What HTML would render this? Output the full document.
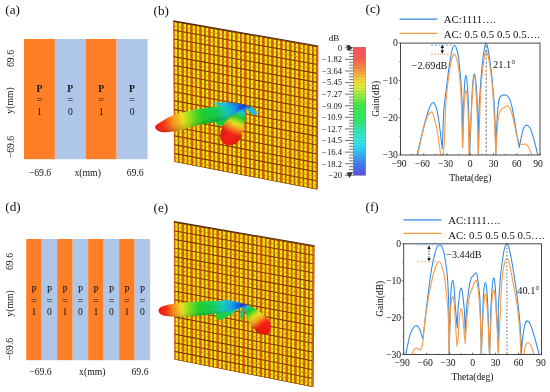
<!DOCTYPE html>
<html lang="en"><head><meta charset="utf-8"><title>Figure</title>
<style>html,body{margin:0;padding:0;background:#fff}svg{display:block}text{font-family:"Liberation Serif", "DejaVu Serif", serif;fill:#111}</style></head><body>
<svg width="550" height="392" viewBox="0 0 550 392">
<rect width="550" height="392" fill="#fff"/>
<defs>
<pattern id="cell" width="10" height="10" patternUnits="userSpaceOnUse"><rect width="10" height="10" fill="#cf6a1a"/><rect x="0" y="0" width="10" height="0.9" fill="#3a1c05"/><rect x="0" y="0" width="0.8" height="10" fill="#8a3f0c"/><rect x="2.0" y="1.6" width="2.3" height="3.3" fill="#f6f000"/><rect x="2.0" y="6.0" width="2.3" height="3.3" fill="#f6f000"/><rect x="6.2" y="1.6" width="2.3" height="3.3" fill="#f6f000"/><rect x="6.2" y="6.0" width="2.3" height="3.3" fill="#f6f000"/><rect x="4.7" y="4.9" width="1.2" height="1.2" fill="#9fb0a0"/></pattern>
</defs>
<rect x="24.00" y="39.00" width="30.93" height="120.20" fill="#ff7f27"/>
<rect x="54.88" y="39.00" width="30.93" height="120.20" fill="#aec7e8"/>
<rect x="85.75" y="39.00" width="30.93" height="120.20" fill="#ff7f27"/>
<rect x="116.62" y="39.00" width="30.93" height="120.20" fill="#aec7e8"/>
<text x="39.44" y="91.90" font-size="9.7" font-weight="bold" text-anchor="middle" fill="#3a2a20">P</text>
<text x="39.44" y="103.30" font-size="10.5" text-anchor="middle" fill="#8f8580">=</text>
<text x="39.44" y="114.80" font-size="9.7" text-anchor="middle" fill="#3a2a20">1</text>
<text x="70.31" y="91.90" font-size="9.7" font-weight="bold" text-anchor="middle" fill="#3a2a20">P</text>
<text x="70.31" y="103.30" font-size="10.5" text-anchor="middle" fill="#8f8580">=</text>
<text x="70.31" y="114.80" font-size="9.7" text-anchor="middle" fill="#3a2a20">0</text>
<text x="101.19" y="91.90" font-size="9.7" font-weight="bold" text-anchor="middle" fill="#3a2a20">P</text>
<text x="101.19" y="103.30" font-size="10.5" text-anchor="middle" fill="#8f8580">=</text>
<text x="101.19" y="114.80" font-size="9.7" text-anchor="middle" fill="#3a2a20">1</text>
<text x="132.06" y="91.90" font-size="9.7" font-weight="bold" text-anchor="middle" fill="#3a2a20">P</text>
<text x="132.06" y="103.30" font-size="10.5" text-anchor="middle" fill="#8f8580">=</text>
<text x="132.06" y="114.80" font-size="9.7" text-anchor="middle" fill="#3a2a20">0</text>
<text x="5.30" y="14.15" font-size="13.2" text-anchor="start">(a)</text>
<text transform="translate(14.20 58.50) rotate(-90)" font-size="9.7" text-anchor="middle">69.6</text>
<text transform="translate(13.40 100.50) rotate(-90)" font-size="9.7" text-anchor="middle">y(mm)</text>
<text transform="translate(13.60 147.00) rotate(-90)" font-size="9.7" text-anchor="middle">−69.6</text>
<text x="40.00" y="175.50" font-size="9.7" text-anchor="middle">−69.6</text>
<text x="87.70" y="175.50" font-size="9.7" text-anchor="middle">x(mm)</text>
<text x="135.20" y="175.50" font-size="9.7" text-anchor="middle">69.6</text>
<rect x="26.20" y="239.00" width="15.54" height="121.20" fill="#ff7f27"/>
<rect x="41.69" y="239.00" width="15.54" height="121.20" fill="#aec7e8"/>
<rect x="57.17" y="239.00" width="15.54" height="121.20" fill="#ff7f27"/>
<rect x="72.66" y="239.00" width="15.54" height="121.20" fill="#aec7e8"/>
<rect x="88.15" y="239.00" width="15.54" height="121.20" fill="#ff7f27"/>
<rect x="103.64" y="239.00" width="15.54" height="121.20" fill="#aec7e8"/>
<rect x="119.12" y="239.00" width="15.54" height="121.20" fill="#ff7f27"/>
<rect x="134.61" y="239.00" width="15.54" height="121.20" fill="#aec7e8"/>
<text x="33.94" y="292.50" font-size="9.7" font-weight="normal" text-anchor="middle" fill="#3a2a20">P</text>
<text x="33.94" y="304.10" font-size="10.5" text-anchor="middle" fill="#8f8580">=</text>
<text x="33.94" y="314.80" font-size="9.7" text-anchor="middle" fill="#3a2a20">1</text>
<text x="49.43" y="292.50" font-size="9.7" font-weight="normal" text-anchor="middle" fill="#3a2a20">P</text>
<text x="49.43" y="304.10" font-size="10.5" text-anchor="middle" fill="#8f8580">=</text>
<text x="49.43" y="314.80" font-size="9.7" text-anchor="middle" fill="#3a2a20">0</text>
<text x="64.92" y="292.50" font-size="9.7" font-weight="normal" text-anchor="middle" fill="#3a2a20">P</text>
<text x="64.92" y="304.10" font-size="10.5" text-anchor="middle" fill="#8f8580">=</text>
<text x="64.92" y="314.80" font-size="9.7" text-anchor="middle" fill="#3a2a20">1</text>
<text x="80.41" y="292.50" font-size="9.7" font-weight="normal" text-anchor="middle" fill="#3a2a20">P</text>
<text x="80.41" y="304.10" font-size="10.5" text-anchor="middle" fill="#8f8580">=</text>
<text x="80.41" y="314.80" font-size="9.7" text-anchor="middle" fill="#3a2a20">0</text>
<text x="95.89" y="292.50" font-size="9.7" font-weight="normal" text-anchor="middle" fill="#3a2a20">P</text>
<text x="95.89" y="304.10" font-size="10.5" text-anchor="middle" fill="#8f8580">=</text>
<text x="95.89" y="314.80" font-size="9.7" text-anchor="middle" fill="#3a2a20">1</text>
<text x="111.38" y="292.50" font-size="9.7" font-weight="normal" text-anchor="middle" fill="#3a2a20">P</text>
<text x="111.38" y="304.10" font-size="10.5" text-anchor="middle" fill="#8f8580">=</text>
<text x="111.38" y="314.80" font-size="9.7" text-anchor="middle" fill="#3a2a20">0</text>
<text x="126.87" y="292.50" font-size="9.7" font-weight="normal" text-anchor="middle" fill="#3a2a20">P</text>
<text x="126.87" y="304.10" font-size="10.5" text-anchor="middle" fill="#8f8580">=</text>
<text x="126.87" y="314.80" font-size="9.7" text-anchor="middle" fill="#3a2a20">1</text>
<text x="142.36" y="292.50" font-size="9.7" font-weight="normal" text-anchor="middle" fill="#3a2a20">P</text>
<text x="142.36" y="304.10" font-size="10.5" text-anchor="middle" fill="#8f8580">=</text>
<text x="142.36" y="314.80" font-size="9.7" text-anchor="middle" fill="#3a2a20">0</text>
<text x="5.30" y="211.05" font-size="13.2" text-anchor="start">(d)</text>
<text transform="translate(12.80 261.50) rotate(-90)" font-size="9.7" text-anchor="middle">69.6</text>
<text transform="translate(12.80 303.50) rotate(-90)" font-size="9.7" text-anchor="middle">y(mm)</text>
<text transform="translate(12.80 349.00) rotate(-90)" font-size="9.7" text-anchor="middle">−69.6</text>
<text x="40.40" y="375.00" font-size="9.7" text-anchor="middle">−69.6</text>
<text x="92.30" y="375.00" font-size="9.7" text-anchor="middle">x(mm)</text>
<text x="140.00" y="375.00" font-size="9.7" text-anchor="middle">69.6</text>
<polygon points="173.30,21.00 317.30,46.20 316.80,189.40 174.20,161.80" fill="#de6614"/>
<path d="M174.7,21.3L177.1,21.7L177.9,162.5L175.6,162.1ZM178.5,21.9L181.0,22.3L181.8,163.3L179.4,162.8ZM183.7,22.8L186.1,23.2L186.9,164.2L184.5,163.8ZM187.5,23.5L190.0,23.9L190.7,165.0L188.3,164.5ZM192.7,24.4L195.1,24.8L195.8,166.0L193.5,165.5ZM196.5,25.1L199.0,25.5L199.6,166.7L197.2,166.3ZM201.7,26.0L204.1,26.4L204.7,167.7L202.4,167.3ZM205.5,26.6L208.0,27.1L208.5,168.4L206.1,168.0ZM210.7,27.6L213.1,28.0L213.6,169.4L211.3,169.0ZM214.5,28.2L217.0,28.6L217.4,170.2L215.0,169.7ZM219.7,29.1L222.1,29.5L222.5,171.1L220.2,170.7ZM223.5,29.8L225.9,30.2L226.3,171.9L223.9,171.4ZM228.7,30.7L231.1,31.1L231.4,172.9L229.1,172.4ZM232.5,31.4L235.0,31.8L235.3,173.6L232.8,173.2ZM237.7,32.3L240.1,32.7L240.3,174.6L238.0,174.2ZM241.5,32.9L243.9,33.4L244.2,175.3L241.8,174.9ZM246.7,33.9L249.1,34.3L249.2,176.3L246.9,175.9ZM250.5,34.5L253.0,34.9L253.1,177.1L250.7,176.6ZM255.7,35.4L258.1,35.8L258.2,178.0L255.8,177.6ZM259.5,36.1L262.0,36.5L262.0,178.8L259.6,178.3ZM264.7,37.0L267.1,37.4L267.1,179.8L264.8,179.3ZM268.5,37.7L270.9,38.1L270.9,180.5L268.5,180.1ZM273.7,38.6L276.1,39.0L276.0,181.5L273.7,181.1ZM277.5,39.2L280.0,39.7L279.8,182.2L277.4,181.8ZM282.7,40.2L285.1,40.6L284.9,183.2L282.6,182.8ZM286.5,40.8L288.9,41.2L288.7,184.0L286.3,183.5ZM291.7,41.7L294.1,42.1L293.8,184.9L291.5,184.5ZM295.5,42.4L298.0,42.8L297.6,185.7L295.2,185.2ZM300.7,43.3L303.1,43.7L302.7,186.7L300.4,186.2ZM304.5,44.0L306.9,44.4L306.6,187.4L304.1,187.0ZM309.7,44.9L312.1,45.3L311.6,188.4L309.3,188.0ZM313.5,45.5L315.9,46.0L315.5,189.1L313.1,188.7Z" fill="#f0ee00"/>
<path d="M177.1,21.7L178.5,21.9L179.3,162.8L178.0,162.5ZM186.1,23.2L187.5,23.5L188.2,164.5L186.9,164.3ZM195.1,24.8L196.5,25.1L197.1,166.2L195.8,166.0ZM204.1,26.4L205.5,26.6L206.1,168.0L204.7,167.7ZM213.1,28.0L214.5,28.2L215.0,169.7L213.6,169.4ZM222.1,29.5L223.5,29.8L223.9,171.4L222.6,171.2ZM231.1,31.1L232.5,31.4L232.8,173.1L231.5,172.9ZM240.1,32.7L241.5,32.9L241.7,174.9L240.4,174.6ZM249.1,34.3L250.5,34.5L250.6,176.6L249.3,176.3ZM258.1,35.8L259.5,36.1L259.5,178.3L258.2,178.1ZM267.1,37.4L268.5,37.7L268.4,180.0L267.1,179.8ZM276.1,39.0L277.5,39.2L277.4,181.8L276.0,181.5ZM285.1,40.6L286.5,40.8L286.3,183.5L284.9,183.2ZM294.1,42.1L295.5,42.4L295.2,185.2L293.9,185.0ZM303.1,43.7L304.5,44.0L304.1,186.9L302.8,186.7ZM312.1,45.3L313.5,45.5L313.0,188.7L311.7,188.4Z" fill="#b04c08"/>
<path d="M177.2,25.8L178.5,26.0L178.5,27.3L177.2,27.0ZM177.2,34.6L178.5,34.8L178.5,36.1L177.3,35.9ZM177.3,43.4L178.6,43.6L178.6,44.9L177.3,44.7ZM177.4,52.2L178.6,52.5L178.6,53.7L177.4,53.5ZM177.4,61.0L178.7,61.3L178.7,62.5L177.4,62.3ZM177.5,69.8L178.7,70.1L178.7,71.3L177.5,71.1ZM177.5,78.6L178.8,78.9L178.8,80.1L177.5,79.9ZM177.6,87.4L178.8,87.7L178.8,88.9L177.6,88.7ZM177.6,96.2L178.9,96.5L178.9,97.7L177.6,97.5ZM177.7,105.1L178.9,105.3L178.9,106.5L177.7,106.3ZM177.7,113.9L179.0,114.1L179.0,115.3L177.7,115.1ZM177.8,122.7L179.0,122.9L179.0,124.1L177.8,123.9ZM177.8,131.5L179.1,131.7L179.1,132.9L177.8,132.7ZM177.9,140.3L179.1,140.5L179.2,141.7L177.9,141.5ZM177.9,149.1L179.2,149.3L179.2,150.5L178.0,150.3ZM178.0,157.9L179.3,158.1L179.3,159.3L178.0,159.1ZM186.2,27.4L187.5,27.6L187.5,28.8L186.2,28.6ZM186.2,36.2L187.5,36.4L187.5,37.7L186.2,37.4ZM186.3,45.0L187.5,45.2L187.6,46.5L186.3,46.3ZM186.3,53.8L187.6,54.1L187.6,55.3L186.3,55.1ZM186.4,62.6L187.6,62.9L187.6,64.1L186.4,63.9ZM186.4,71.5L187.7,71.7L187.7,72.9L186.4,72.7ZM186.5,80.3L187.7,80.5L187.7,81.7L186.5,81.5ZM186.5,89.1L187.8,89.3L187.8,90.6L186.5,90.3ZM186.6,97.9L187.8,98.1L187.8,99.4L186.6,99.1ZM186.6,106.7L187.9,106.9L187.9,108.2L186.6,107.9ZM186.7,115.5L187.9,115.8L187.9,117.0L186.7,116.8ZM186.7,124.3L188.0,124.6L188.0,125.8L186.7,125.6ZM186.8,133.2L188.0,133.4L188.0,134.6L186.8,134.4ZM186.8,142.0L188.1,142.2L188.1,143.4L186.8,143.2ZM186.9,150.8L188.1,151.0L188.1,152.3L186.9,152.0ZM186.9,159.6L188.2,159.8L188.2,161.1L186.9,160.8ZM195.2,29.0L196.4,29.2L196.5,30.4L195.2,30.2ZM195.2,37.8L196.5,38.0L196.5,39.3L195.2,39.0ZM195.3,46.6L196.5,46.8L196.5,48.1L195.3,47.9ZM195.3,55.4L196.6,55.7L196.6,56.9L195.3,56.7ZM195.4,64.3L196.6,64.5L196.6,65.7L195.4,65.5ZM195.4,73.1L196.7,73.3L196.7,74.6L195.4,74.3ZM195.4,81.9L196.7,82.1L196.7,83.4L195.5,83.1ZM195.5,90.7L196.7,91.0L196.8,92.2L195.5,92.0ZM195.5,99.6L196.8,99.8L196.8,101.0L195.5,100.8ZM195.6,108.4L196.8,108.6L196.8,109.8L195.6,109.6ZM195.6,117.2L196.9,117.4L196.9,118.7L195.6,118.4ZM195.7,126.0L196.9,126.3L196.9,127.5L195.7,127.3ZM195.7,134.8L197.0,135.1L197.0,136.3L195.7,136.1ZM195.7,143.7L197.0,143.9L197.0,145.1L195.8,144.9ZM195.8,152.5L197.0,152.7L197.0,154.0L195.8,153.7ZM195.8,161.3L197.1,161.6L197.1,162.8L195.8,162.6ZM204.2,30.6L205.4,30.8L205.5,32.0L204.2,31.8ZM204.2,39.4L205.5,39.6L205.5,40.8L204.2,40.6ZM204.3,48.2L205.5,48.4L205.5,49.7L204.3,49.5ZM204.3,57.0L205.6,57.3L205.6,58.5L204.3,58.3ZM204.3,65.9L205.6,66.1L205.6,67.3L204.3,67.1ZM204.4,74.7L205.6,74.9L205.6,76.2L204.4,76.0ZM204.4,83.5L205.7,83.8L205.7,85.0L204.4,84.8ZM204.5,92.4L205.7,92.6L205.7,93.8L204.5,93.6ZM204.5,101.2L205.7,101.4L205.7,102.7L204.5,102.4ZM204.5,110.0L205.8,110.3L205.8,111.5L204.5,111.3ZM204.6,118.9L205.8,119.1L205.8,120.3L204.6,120.1ZM204.6,127.7L205.9,127.9L205.9,129.2L204.6,128.9ZM204.6,136.5L205.9,136.8L205.9,138.0L204.6,137.8ZM204.7,145.4L205.9,145.6L205.9,146.8L204.7,146.6ZM204.7,154.2L206.0,154.4L206.0,155.7L204.7,155.4ZM204.8,163.0L206.0,163.3L206.0,164.5L204.8,164.3ZM213.2,32.1L214.4,32.4L214.4,33.6L213.2,33.4ZM213.2,41.0L214.5,41.2L214.5,42.4L213.2,42.2ZM213.2,49.8L214.5,50.0L214.5,51.3L213.3,51.1ZM213.3,58.7L214.5,58.9L214.5,60.1L213.3,59.9ZM213.3,67.5L214.6,67.7L214.6,69.0L213.3,68.7ZM213.3,76.3L214.6,76.6L214.6,77.8L213.3,77.6ZM213.4,85.2L214.6,85.4L214.6,86.6L213.4,86.4ZM213.4,94.0L214.7,94.3L214.7,95.5L213.4,95.3ZM213.4,102.9L214.7,103.1L214.7,104.3L213.4,104.1ZM213.5,111.7L214.7,111.9L214.7,113.2L213.5,112.9ZM213.5,120.5L214.8,120.8L214.8,122.0L213.5,121.8ZM213.5,129.4L214.8,129.6L214.8,130.9L213.5,130.6ZM213.6,138.2L214.8,138.5L214.8,139.7L213.6,139.5ZM213.6,147.1L214.9,147.3L214.9,148.5L213.6,148.3ZM213.6,155.9L214.9,156.2L214.9,157.4L213.6,157.2ZM213.7,164.8L214.9,165.0L214.9,166.2L213.7,166.0ZM222.2,33.7L223.4,33.9L223.4,35.2L222.2,35.0ZM222.2,42.6L223.5,42.8L223.5,44.0L222.2,43.8ZM222.2,51.4L223.5,51.6L223.5,52.9L222.2,52.7ZM222.3,60.3L223.5,60.5L223.5,61.7L222.3,61.5ZM222.3,69.1L223.5,69.3L223.5,70.6L222.3,70.4ZM222.3,78.0L223.6,78.2L223.6,79.4L222.3,79.2ZM222.3,86.8L223.6,87.0L223.6,88.3L222.3,88.1ZM222.4,95.7L223.6,95.9L223.6,97.1L222.4,96.9ZM222.4,104.5L223.6,104.8L223.7,106.0L222.4,105.8ZM222.4,113.4L223.7,113.6L223.7,114.8L222.4,114.6ZM222.4,122.2L223.7,122.5L223.7,123.7L222.5,123.5ZM222.5,131.1L223.7,131.3L223.7,132.5L222.5,132.3ZM222.5,139.9L223.8,140.2L223.8,141.4L222.5,141.2ZM222.5,148.8L223.8,149.0L223.8,150.3L222.5,150.0ZM222.6,157.6L223.8,157.9L223.8,159.1L222.6,158.9ZM222.6,166.5L223.8,166.7L223.8,168.0L222.6,167.7ZM231.2,35.3L232.4,35.5L232.4,36.8L231.2,36.5ZM231.2,44.2L232.5,44.4L232.5,45.6L231.2,45.4ZM231.2,53.0L232.5,53.2L232.5,54.5L231.2,54.3ZM231.2,61.9L232.5,62.1L232.5,63.3L231.2,63.1ZM231.3,70.7L232.5,71.0L232.5,72.2L231.3,72.0ZM231.3,79.6L232.5,79.8L232.5,81.1L231.3,80.8ZM231.3,88.5L232.6,88.7L232.6,89.9L231.3,89.7ZM231.3,97.3L232.6,97.5L232.6,98.8L231.3,98.6ZM231.3,106.2L232.6,106.4L232.6,107.6L231.4,107.4ZM231.4,115.0L232.6,115.3L232.6,116.5L231.4,116.3ZM231.4,123.9L232.6,124.1L232.6,125.4L231.4,125.1ZM231.4,132.8L232.7,133.0L232.7,134.2L231.4,134.0ZM231.4,141.6L232.7,141.9L232.7,143.1L231.4,142.9ZM231.5,150.5L232.7,150.7L232.7,152.0L231.5,151.7ZM231.5,159.3L232.7,159.6L232.7,160.8L231.5,160.6ZM231.5,168.2L232.7,168.4L232.7,169.7L231.5,169.4ZM240.2,36.9L241.4,37.1L241.4,38.3L240.2,38.1ZM240.2,45.7L241.5,46.0L241.5,47.2L240.2,47.0ZM240.2,54.6L241.5,54.8L241.5,56.1L240.2,55.9ZM240.2,63.5L241.5,63.7L241.5,64.9L240.2,64.7ZM240.2,72.3L241.5,72.6L241.5,73.8L240.2,73.6ZM240.3,81.2L241.5,81.4L241.5,82.7L240.3,82.5ZM240.3,90.1L241.5,90.3L241.5,91.6L240.3,91.3ZM240.3,99.0L241.5,99.2L241.5,100.4L240.3,100.2ZM240.3,107.8L241.6,108.1L241.6,109.3L240.3,109.1ZM240.3,116.7L241.6,116.9L241.6,118.2L240.3,117.9ZM240.3,125.6L241.6,125.8L241.6,127.0L240.3,126.8ZM240.3,134.4L241.6,134.7L241.6,135.9L240.4,135.7ZM240.4,143.3L241.6,143.5L241.6,144.8L240.4,144.5ZM240.4,152.2L241.6,152.4L241.6,153.7L240.4,153.4ZM240.4,161.0L241.6,161.3L241.6,162.5L240.4,162.3ZM240.4,169.9L241.7,170.2L241.7,171.4L240.4,171.2ZM249.2,38.5L250.4,38.7L250.4,39.9L249.2,39.7ZM249.2,47.3L250.4,47.6L250.4,48.8L249.2,48.6ZM249.2,56.2L250.5,56.4L250.5,57.7L249.2,57.5ZM249.2,65.1L250.5,65.3L250.5,66.6L249.2,66.3ZM249.2,74.0L250.5,74.2L250.5,75.4L249.2,75.2ZM249.2,82.8L250.5,83.1L250.5,84.3L249.2,84.1ZM249.2,91.7L250.5,92.0L250.5,93.2L249.2,93.0ZM249.2,100.6L250.5,100.8L250.5,102.1L249.2,101.8ZM249.3,109.5L250.5,109.7L250.5,111.0L249.3,110.7ZM249.3,118.4L250.5,118.6L250.5,119.8L249.3,119.6ZM249.3,127.2L250.5,127.5L250.5,128.7L249.3,128.5ZM249.3,136.1L250.5,136.4L250.5,137.6L249.3,137.4ZM249.3,145.0L250.5,145.2L250.5,146.5L249.3,146.2ZM249.3,153.9L250.6,154.1L250.6,155.4L249.3,155.1ZM249.3,162.8L250.6,163.0L250.6,164.2L249.3,164.0ZM249.3,171.6L250.6,171.9L250.6,173.1L249.3,172.9ZM258.2,40.0L259.4,40.3L259.4,41.5L258.2,41.3ZM258.2,48.9L259.4,49.1L259.4,50.4L258.2,50.2ZM258.2,57.8L259.4,58.0L259.4,59.3L258.2,59.1ZM258.2,66.7L259.4,66.9L259.4,68.2L258.2,67.9ZM258.2,75.6L259.4,75.8L259.4,77.1L258.2,76.8ZM258.2,84.5L259.5,84.7L259.5,85.9L258.2,85.7ZM258.2,93.4L259.5,93.6L259.5,94.8L258.2,94.6ZM258.2,102.2L259.5,102.5L259.5,103.7L258.2,103.5ZM258.2,111.1L259.5,111.4L259.5,112.6L258.2,112.4ZM258.2,120.0L259.5,120.3L259.5,121.5L258.2,121.3ZM258.2,128.9L259.5,129.1L259.5,130.4L258.2,130.2ZM258.2,137.8L259.5,138.0L259.5,139.3L258.2,139.0ZM258.2,146.7L259.5,146.9L259.5,148.2L258.2,147.9ZM258.2,155.6L259.5,155.8L259.5,157.1L258.2,156.8ZM258.2,164.5L259.5,164.7L259.5,166.0L258.2,165.7ZM258.2,173.4L259.5,173.6L259.5,174.8L258.2,174.6ZM267.2,41.6L268.4,41.8L268.4,43.1L267.2,42.9ZM267.2,50.5L268.4,50.7L268.4,52.0L267.2,51.8ZM267.2,59.4L268.4,59.6L268.4,60.9L267.2,60.7ZM267.2,68.3L268.4,68.5L268.4,69.8L267.2,69.5ZM267.2,77.2L268.4,77.4L268.4,78.7L267.2,78.4ZM267.2,86.1L268.4,86.3L268.4,87.6L267.2,87.3ZM267.2,95.0L268.4,95.2L268.4,96.5L267.2,96.2ZM267.2,103.9L268.4,104.1L268.4,105.4L267.2,105.1ZM267.2,112.8L268.4,113.0L268.4,114.3L267.2,114.0ZM267.2,121.7L268.4,121.9L268.4,123.2L267.2,122.9ZM267.2,130.6L268.4,130.8L268.4,132.1L267.2,131.8ZM267.2,139.5L268.4,139.7L268.4,141.0L267.2,140.7ZM267.2,148.4L268.4,148.6L268.4,149.9L267.2,149.6ZM267.2,157.3L268.4,157.5L268.4,158.8L267.2,158.5ZM267.2,166.2L268.4,166.4L268.4,167.7L267.2,167.4ZM267.2,175.1L268.4,175.3L268.4,176.6L267.2,176.3ZM276.2,43.2L277.4,43.4L277.4,44.7L276.2,44.4ZM276.2,52.1L277.4,52.3L277.4,53.6L276.2,53.3ZM276.2,61.0L277.4,61.2L277.4,62.5L276.2,62.2ZM276.1,69.9L277.4,70.1L277.4,71.4L276.1,71.2ZM276.1,78.8L277.4,79.0L277.4,80.3L276.1,80.1ZM276.1,87.7L277.4,88.0L277.4,89.2L276.1,89.0ZM276.1,96.6L277.4,96.9L277.4,98.1L276.1,97.9ZM276.1,105.5L277.4,105.8L277.4,107.0L276.1,106.8ZM276.1,114.4L277.4,114.7L277.4,115.9L276.1,115.7ZM276.1,123.4L277.4,123.6L277.4,124.8L276.1,124.6ZM276.1,132.3L277.4,132.5L277.4,133.7L276.1,133.5ZM276.1,141.2L277.3,141.4L277.3,142.7L276.1,142.4ZM276.1,150.1L277.3,150.3L277.3,151.6L276.1,151.3ZM276.1,159.0L277.3,159.2L277.3,160.5L276.1,160.2ZM276.1,167.9L277.3,168.1L277.3,169.4L276.1,169.1ZM276.1,176.8L277.3,177.0L277.3,178.3L276.1,178.0ZM285.2,44.8L286.4,45.0L286.4,46.2L285.2,46.0ZM285.2,53.7L286.4,53.9L286.4,55.2L285.2,54.9ZM285.1,62.6L286.4,62.8L286.4,64.1L285.1,63.8ZM285.1,71.5L286.4,71.7L286.4,73.0L285.1,72.8ZM285.1,80.4L286.4,80.7L286.4,81.9L285.1,81.7ZM285.1,89.4L286.4,89.6L286.4,90.8L285.1,90.6ZM285.1,98.3L286.3,98.5L286.3,99.7L285.1,99.5ZM285.1,107.2L286.3,107.4L286.3,108.7L285.1,108.4ZM285.1,116.1L286.3,116.3L286.3,117.6L285.1,117.3ZM285.1,125.0L286.3,125.2L286.3,126.5L285.1,126.3ZM285.0,133.9L286.3,134.2L286.3,135.4L285.0,135.2ZM285.0,142.8L286.3,143.1L286.3,144.3L285.0,144.1ZM285.0,151.8L286.3,152.0L286.3,153.3L285.0,153.0ZM285.0,160.7L286.3,160.9L286.3,162.2L285.0,161.9ZM285.0,169.6L286.2,169.8L286.2,171.1L285.0,170.8ZM285.0,178.5L286.2,178.8L286.2,180.0L285.0,179.8ZM294.2,46.3L295.4,46.6L295.4,47.8L294.2,47.6ZM294.1,55.3L295.4,55.5L295.4,56.7L294.1,56.5ZM294.1,64.2L295.4,64.4L295.4,65.7L294.1,65.4ZM294.1,73.1L295.4,73.4L295.4,74.6L294.1,74.4ZM294.1,82.1L295.3,82.3L295.3,83.5L294.1,83.3ZM294.1,91.0L295.3,91.2L295.3,92.5L294.1,92.2ZM294.1,99.9L295.3,100.1L295.3,101.4L294.1,101.2ZM294.0,108.8L295.3,109.1L295.3,110.3L294.0,110.1ZM294.0,117.8L295.3,118.0L295.3,119.2L294.0,119.0ZM294.0,126.7L295.3,126.9L295.3,128.2L294.0,127.9ZM294.0,135.6L295.2,135.8L295.2,137.1L294.0,136.9ZM294.0,144.5L295.2,144.8L295.2,146.0L294.0,145.8ZM294.0,153.5L295.2,153.7L295.2,154.9L294.0,154.7ZM293.9,162.4L295.2,162.6L295.2,163.9L293.9,163.6ZM293.9,171.3L295.2,171.5L295.2,172.8L293.9,172.6ZM293.9,180.2L295.2,180.5L295.1,181.7L293.9,181.5ZM303.2,47.9L304.4,48.1L304.4,49.4L303.2,49.2ZM303.1,56.9L304.4,57.1L304.4,58.3L303.1,58.1ZM303.1,65.8L304.4,66.0L304.4,67.3L303.1,67.0ZM303.1,74.7L304.3,75.0L304.3,76.2L303.1,76.0ZM303.1,83.7L304.3,83.9L304.3,85.1L303.1,84.9ZM303.0,92.6L304.3,92.8L304.3,94.1L303.0,93.9ZM303.0,101.5L304.3,101.8L304.3,103.0L303.0,102.8ZM303.0,110.5L304.3,110.7L304.3,112.0L303.0,111.7ZM303.0,119.4L304.2,119.6L304.2,120.9L303.0,120.7ZM303.0,128.3L304.2,128.6L304.2,129.8L303.0,129.6ZM302.9,137.3L304.2,137.5L304.2,138.8L302.9,138.5ZM302.9,146.2L304.2,146.5L304.2,147.7L302.9,147.5ZM302.9,155.2L304.1,155.4L304.1,156.6L302.9,156.4ZM302.9,164.1L304.1,164.3L304.1,165.6L302.9,165.3ZM302.8,173.0L304.1,173.3L304.1,174.5L302.8,174.3ZM302.8,182.0L304.1,182.2L304.1,183.4L302.8,183.2ZM312.2,49.5L313.4,49.7L313.4,51.0L312.2,50.8ZM312.1,58.5L313.4,58.7L313.4,59.9L312.1,59.7ZM312.1,67.4L313.4,67.6L313.4,68.9L312.1,68.6ZM312.1,76.3L313.3,76.6L313.3,77.8L312.1,77.6ZM312.0,85.3L313.3,85.5L313.3,86.8L312.0,86.5ZM312.0,94.2L313.3,94.5L313.3,95.7L312.0,95.5ZM312.0,103.2L313.2,103.4L313.2,104.7L312.0,104.4ZM312.0,112.1L313.2,112.3L313.2,113.6L312.0,113.4ZM311.9,121.1L313.2,121.3L313.2,122.5L311.9,122.3ZM311.9,130.0L313.2,130.2L313.2,131.5L311.9,131.3ZM311.9,139.0L313.1,139.2L313.1,140.4L311.9,140.2ZM311.8,147.9L313.1,148.1L313.1,149.4L311.8,149.1ZM311.8,156.8L313.1,157.1L313.1,158.3L311.8,158.1ZM311.8,165.8L313.0,166.0L313.0,167.3L311.8,167.0ZM311.8,174.7L313.0,175.0L313.0,176.2L311.8,176.0ZM311.7,183.7L313.0,183.9L313.0,185.2L311.7,184.9Z" fill="#9db4bc"/>
<path d="M173.3,25.5L317.3,50.8L317.3,51.5L173.3,26.2ZM173.4,34.3L317.3,59.7L317.3,60.5L173.4,35.0ZM173.4,43.1L317.2,68.7L317.2,69.4L173.4,43.8ZM173.5,51.9L317.2,77.6L317.2,78.4L173.5,52.6ZM173.6,60.7L317.2,86.6L317.2,87.3L173.6,61.4ZM173.6,69.5L317.1,95.5L317.1,96.3L173.6,70.2ZM173.7,78.3L317.1,104.5L317.1,105.2L173.7,79.0ZM173.7,87.1L317.1,113.4L317.1,114.2L173.7,87.8ZM173.8,95.9L317.0,122.4L317.0,123.1L173.8,96.6ZM173.8,104.7L317.0,131.3L317.0,132.1L173.8,105.4ZM173.9,113.5L317.0,140.3L317.0,141.0L173.9,114.2ZM173.9,122.3L316.9,149.2L316.9,150.0L174.0,123.0ZM174.0,131.1L316.9,158.2L316.9,158.9L174.0,131.8ZM174.1,139.9L316.9,167.1L316.9,167.9L174.1,140.6ZM174.1,148.7L316.8,176.1L316.8,176.8L174.1,149.4ZM174.2,157.5L316.8,185.0L316.8,185.8L174.2,158.2Z" fill="#c06a10" opacity="0.7"/>
<g clip-path="url(#clipb)"><path d="M173.3,20.7L317.3,45.9L317.3,47.2L173.3,22.0ZM173.4,29.5L317.3,54.9L317.3,56.1L173.4,30.8ZM173.4,38.3L317.2,63.8L317.2,65.1L173.4,39.6ZM173.5,47.1L317.2,72.8L317.2,74.0L173.5,48.4ZM173.5,55.9L317.2,81.7L317.2,83.0L173.5,57.2ZM173.6,64.7L317.1,90.7L317.1,91.9L173.6,66.0ZM173.6,73.5L317.1,99.6L317.1,100.9L173.6,74.8ZM173.7,82.3L317.1,108.6L317.1,109.8L173.7,83.6ZM173.7,91.1L317.1,117.5L317.0,118.8L173.8,92.4ZM173.8,99.9L317.0,126.5L317.0,127.7L173.8,101.2ZM173.9,108.7L317.0,135.4L317.0,136.7L173.9,110.0ZM173.9,117.5L317.0,144.4L317.0,145.6L173.9,118.8ZM174.0,126.3L316.9,153.3L316.9,154.6L174.0,127.6ZM174.0,135.1L316.9,162.3L316.9,163.5L174.0,136.4ZM174.1,143.9L316.9,171.2L316.9,172.5L174.1,145.2ZM174.1,152.7L316.8,180.2L316.8,181.4L174.1,154.0ZM174.2,161.5L316.8,189.1L316.8,190.4L174.2,162.8Z" fill="#c45c12"/><path d="M173.3,21.1L317.3,46.3L317.3,46.9L173.3,21.7ZM173.4,29.9L317.3,55.2L317.3,55.8L173.4,30.5ZM173.4,38.7L317.2,64.2L317.2,64.8L173.4,39.3ZM173.5,47.5L317.2,73.1L317.2,73.7L173.5,48.1ZM173.5,56.3L317.2,82.1L317.2,82.7L173.5,56.9ZM173.6,65.1L317.1,91.0L317.1,91.6L173.6,65.7ZM173.6,73.9L317.1,100.0L317.1,100.6L173.6,74.5ZM173.7,82.7L317.1,108.9L317.1,109.5L173.7,83.3ZM173.8,91.5L317.0,117.9L317.0,118.5L173.8,92.1ZM173.8,100.3L317.0,126.8L317.0,127.4L173.8,100.9ZM173.9,109.1L317.0,135.8L317.0,136.4L173.9,109.7ZM173.9,117.9L317.0,144.7L317.0,145.3L173.9,118.5ZM174.0,126.7L316.9,153.7L316.9,154.3L174.0,127.3ZM174.0,135.5L316.9,162.6L316.9,163.2L174.0,136.1ZM174.1,144.3L316.9,171.6L316.9,172.2L174.1,144.9ZM174.1,153.1L316.8,180.5L316.8,181.1L174.1,153.7ZM174.2,161.3L316.8,188.9L316.8,189.4L174.2,161.8Z" fill="#5c2e0a"/></g>
<path d="M173.0,21.0L173.8,21.1L174.6,161.9L173.9,161.7ZM182.0,22.5L182.8,22.7L183.6,163.6L182.8,163.5ZM191.0,24.1L191.8,24.2L192.5,165.3L191.8,165.2ZM200.0,25.7L200.8,25.8L201.4,167.1L200.7,166.9ZM209.0,27.3L209.8,27.4L210.3,168.8L209.6,168.6ZM218.0,28.8L218.8,29.0L219.2,170.5L218.5,170.4ZM227.0,30.4L227.8,30.5L228.1,172.2L227.4,172.1ZM236.0,32.0L236.8,32.1L237.0,174.0L236.3,173.8ZM245.0,33.6L245.8,33.7L245.9,175.7L245.2,175.5ZM254.0,35.1L254.8,35.3L254.9,177.4L254.1,177.3ZM263.0,36.7L263.8,36.8L263.8,179.1L263.1,179.0ZM272.0,38.3L272.8,38.4L272.7,180.9L272.0,180.7ZM281.0,39.9L281.8,40.0L281.6,182.6L280.9,182.4ZM290.0,41.4L290.8,41.6L290.5,184.3L289.8,184.2ZM299.0,43.0L299.8,43.1L299.4,186.0L298.7,185.9ZM308.0,44.6L308.8,44.7L308.3,187.8L307.6,187.6ZM317.0,46.2L317.8,46.3L317.2,189.5L316.5,189.3Z" fill="#b04c0c" opacity="0.55"/>
<clipPath id="clipb"><polygon points="173.30,21.00 317.30,46.20 316.80,189.40 174.20,161.80"/></clipPath>
<polygon points="173.30,20.30 318.30,45.50 318.30,46.40 173.30,21.40" fill="#4a2a08"/>
<polygon points="317.30,46.20 318.40,45.70 317.90,189.10 316.80,189.40" fill="#b35a14"/>
<polygon points="174.00,221.80 313.60,246.00 312.60,386.90 174.40,359.60" fill="#de6614"/>
<path d="M175.4,222.0L177.7,222.4L178.0,360.3L175.8,359.9ZM179.1,222.7L181.4,223.1L181.7,361.1L179.4,360.6ZM184.1,223.6L186.4,223.9L186.7,362.0L184.4,361.6ZM187.8,224.2L190.1,224.6L190.4,362.8L188.0,362.3ZM192.8,225.1L195.1,225.5L195.3,363.7L193.1,363.3ZM196.5,225.7L198.9,226.1L199.0,364.5L196.7,364.0ZM201.6,226.6L203.8,227.0L203.9,365.4L201.7,365.0ZM205.2,227.2L207.6,227.6L207.7,366.2L205.3,365.7ZM210.3,228.1L212.6,228.5L212.6,367.1L210.3,366.7ZM214.0,228.7L216.3,229.1L216.3,367.9L214.0,367.4ZM219.0,229.6L221.3,230.0L221.2,368.8L219.0,368.4ZM222.7,230.2L225.0,230.6L224.9,369.6L222.6,369.1ZM227.7,231.1L230.0,231.5L229.9,370.6L227.6,370.1ZM231.4,231.8L233.8,232.2L233.6,371.3L231.2,370.8ZM236.5,232.6L238.7,233.0L238.5,372.3L236.2,371.8ZM240.1,233.3L242.5,233.7L242.2,373.0L239.9,372.5ZM245.2,234.1L247.5,234.5L247.1,374.0L244.9,373.5ZM248.9,234.8L251.2,235.2L250.8,374.7L248.5,374.2ZM253.9,235.7L256.2,236.0L255.8,375.7L253.5,375.2ZM257.6,236.3L259.9,236.7L259.5,376.4L257.1,375.9ZM262.6,237.2L264.9,237.6L264.4,377.4L262.2,376.9ZM266.3,237.8L268.7,238.2L268.1,378.1L265.8,377.7ZM271.4,238.7L273.6,239.1L273.0,379.1L270.8,378.6ZM275.0,239.3L277.4,239.7L276.8,379.8L274.4,379.4ZM280.1,240.2L282.4,240.6L281.7,380.8L279.4,380.3ZM283.8,240.8L286.1,241.2L285.4,381.5L283.1,381.1ZM288.8,241.7L291.1,242.1L290.3,382.5L288.1,382.1ZM292.5,242.3L294.8,242.7L294.0,383.2L291.7,382.8ZM297.5,243.2L299.8,243.6L299.0,384.2L296.7,383.8ZM301.2,243.9L303.6,244.3L302.7,384.9L300.3,384.5ZM306.3,244.7L308.5,245.1L307.6,385.9L305.3,385.5ZM309.9,245.4L312.3,245.8L311.3,386.6L309.0,386.2Z" fill="#f0ee00"/>
<path d="M177.7,222.4L179.0,222.7L179.4,360.6L178.1,360.3ZM186.4,224.0L187.7,224.2L188.0,362.3L186.7,362.0ZM195.2,225.5L196.5,225.7L196.6,364.0L195.3,363.7ZM203.9,227.0L205.2,227.2L205.3,365.7L204.0,365.4ZM212.6,228.5L213.9,228.7L213.9,367.4L212.6,367.2ZM221.3,230.0L222.6,230.2L222.6,369.1L221.3,368.9ZM230.1,231.5L231.4,231.7L231.2,370.8L229.9,370.6ZM238.8,233.0L240.1,233.3L239.8,372.5L238.5,372.3ZM247.5,234.5L248.8,234.8L248.5,374.2L247.2,374.0ZM256.2,236.1L257.5,236.3L257.1,375.9L255.8,375.7ZM265.0,237.6L266.3,237.8L265.7,377.6L264.4,377.4ZM273.7,239.1L275.0,239.3L274.4,379.3L273.1,379.1ZM282.4,240.6L283.7,240.8L283.0,381.1L281.7,380.8ZM291.1,242.1L292.4,242.3L291.7,382.8L290.4,382.5ZM299.9,243.6L301.2,243.8L300.3,384.5L299.0,384.2ZM308.6,245.1L309.9,245.4L308.9,386.2L307.6,385.9Z" fill="#b04c08"/>
<path d="M177.8,226.5L179.0,226.7L179.0,227.9L177.8,227.7ZM177.8,235.1L179.0,235.3L179.0,236.5L177.8,236.3ZM177.8,243.7L179.0,244.0L179.0,245.2L177.8,244.9ZM177.8,252.4L179.0,252.6L179.1,253.8L177.8,253.6ZM177.9,261.0L179.1,261.2L179.1,262.4L177.9,262.2ZM177.9,269.6L179.1,269.8L179.1,271.0L177.9,270.8ZM177.9,278.2L179.1,278.4L179.1,279.6L177.9,279.4ZM177.9,286.8L179.1,287.0L179.1,288.3L177.9,288.0ZM177.9,295.4L179.2,295.7L179.2,296.9L177.9,296.6ZM178.0,304.1L179.2,304.3L179.2,305.5L178.0,305.3ZM178.0,312.7L179.2,312.9L179.2,314.1L178.0,313.9ZM178.0,321.3L179.2,321.5L179.2,322.7L178.0,322.5ZM178.0,329.9L179.2,330.1L179.2,331.4L178.0,331.1ZM178.1,338.5L179.3,338.8L179.3,340.0L178.1,339.7ZM178.1,347.1L179.3,347.4L179.3,348.6L178.1,348.4ZM178.1,355.8L179.3,356.0L179.3,357.2L178.1,357.0ZM186.5,228.0L187.7,228.2L187.7,229.4L186.5,229.2ZM186.5,236.6L187.7,236.9L187.7,238.1L186.5,237.9ZM186.5,245.3L187.7,245.5L187.7,246.7L186.5,246.5ZM186.5,253.9L187.8,254.1L187.8,255.3L186.5,255.1ZM186.6,262.5L187.8,262.8L187.8,264.0L186.6,263.7ZM186.6,271.2L187.8,271.4L187.8,272.6L186.6,272.4ZM186.6,279.8L187.8,280.0L187.8,281.2L186.6,281.0ZM186.6,288.4L187.8,288.7L187.8,289.9L186.6,289.6ZM186.6,297.1L187.8,297.3L187.8,298.5L186.6,298.3ZM186.6,305.7L187.9,305.9L187.9,307.1L186.6,306.9ZM186.7,314.3L187.9,314.5L187.9,315.8L186.7,315.5ZM186.7,322.9L187.9,323.2L187.9,324.4L186.7,324.2ZM186.7,331.6L187.9,331.8L187.9,333.0L186.7,332.8ZM186.7,340.2L187.9,340.4L187.9,341.6L186.7,341.4ZM186.7,348.8L187.9,349.1L187.9,350.3L186.7,350.0ZM186.7,357.5L188.0,357.7L188.0,358.9L186.7,358.7ZM195.2,229.5L196.4,229.7L196.4,231.0L195.2,230.7ZM195.2,238.2L196.4,238.4L196.4,239.6L195.2,239.4ZM195.2,246.8L196.5,247.0L196.5,248.2L195.2,248.0ZM195.2,255.5L196.5,255.7L196.5,256.9L195.2,256.7ZM195.3,264.1L196.5,264.3L196.5,265.5L195.3,265.3ZM195.3,272.7L196.5,273.0L196.5,274.2L195.3,274.0ZM195.3,281.4L196.5,281.6L196.5,282.8L195.3,282.6ZM195.3,290.0L196.5,290.3L196.5,291.5L195.3,291.2ZM195.3,298.7L196.5,298.9L196.5,300.1L195.3,299.9ZM195.3,307.3L196.5,307.5L196.5,308.8L195.3,308.5ZM195.3,316.0L196.5,316.2L196.5,317.4L195.3,317.2ZM195.3,324.6L196.5,324.8L196.6,326.0L195.3,325.8ZM195.3,333.2L196.6,333.5L196.6,334.7L195.3,334.5ZM195.4,341.9L196.6,342.1L196.6,343.3L195.4,343.1ZM195.4,350.5L196.6,350.8L196.6,352.0L195.4,351.7ZM195.4,359.2L196.6,359.4L196.6,360.6L195.4,360.4ZM203.9,231.1L205.2,231.3L205.2,232.5L203.9,232.3ZM203.9,239.7L205.2,239.9L205.2,241.1L203.9,240.9ZM203.9,248.4L205.2,248.6L205.2,249.8L203.9,249.6ZM203.9,257.0L205.2,257.2L205.2,258.4L203.9,258.2ZM204.0,265.7L205.2,265.9L205.2,267.1L204.0,266.9ZM204.0,274.3L205.2,274.5L205.2,275.8L204.0,275.5ZM204.0,283.0L205.2,283.2L205.2,284.4L204.0,284.2ZM204.0,291.6L205.2,291.9L205.2,293.1L204.0,292.8ZM204.0,300.3L205.2,300.5L205.2,301.7L204.0,301.5ZM204.0,308.9L205.2,309.2L205.2,310.4L204.0,310.2ZM204.0,317.6L205.2,317.8L205.2,319.0L204.0,318.8ZM204.0,326.2L205.2,326.5L205.2,327.7L204.0,327.5ZM204.0,334.9L205.2,335.1L205.2,336.3L204.0,336.1ZM204.0,343.6L205.2,343.8L205.2,345.0L204.0,344.8ZM204.0,352.2L205.2,352.4L205.2,353.7L204.0,353.4ZM204.0,360.9L205.2,361.1L205.2,362.3L204.0,362.1ZM212.7,232.6L213.9,232.8L213.9,234.0L212.7,233.8ZM212.7,241.2L213.9,241.5L213.9,242.7L212.7,242.5ZM212.7,249.9L213.9,250.1L213.9,251.3L212.7,251.1ZM212.7,258.6L213.9,258.8L213.9,260.0L212.7,259.8ZM212.7,267.2L213.9,267.5L213.9,268.7L212.7,268.5ZM212.7,275.9L213.9,276.1L213.9,277.3L212.7,277.1ZM212.7,284.6L213.9,284.8L213.9,286.0L212.7,285.8ZM212.7,293.2L213.9,293.5L213.9,294.7L212.7,294.4ZM212.7,301.9L213.9,302.1L213.9,303.3L212.7,303.1ZM212.7,310.6L213.9,310.8L213.9,312.0L212.7,311.8ZM212.7,319.2L213.9,319.5L213.9,320.7L212.7,320.4ZM212.7,327.9L213.9,328.1L213.9,329.3L212.7,329.1ZM212.7,336.6L213.9,336.8L213.9,338.0L212.7,337.8ZM212.7,345.2L213.9,345.5L213.9,346.7L212.7,346.4ZM212.7,353.9L213.9,354.1L213.9,355.3L212.7,355.1ZM212.7,362.6L213.9,362.8L213.9,364.0L212.7,363.8ZM221.4,234.1L222.6,234.3L222.6,235.5L221.4,235.3ZM221.4,242.8L222.6,243.0L222.6,244.2L221.4,244.0ZM221.4,251.4L222.6,251.7L222.6,252.9L221.4,252.7ZM221.4,260.1L222.6,260.3L222.6,261.6L221.4,261.3ZM221.4,268.8L222.6,269.0L222.6,270.2L221.4,270.0ZM221.4,277.5L222.6,277.7L222.6,278.9L221.4,278.7ZM221.3,286.2L222.6,286.4L222.6,287.6L221.3,287.4ZM221.3,294.8L222.6,295.1L222.6,296.3L221.3,296.1ZM221.3,303.5L222.6,303.7L222.6,305.0L221.3,304.7ZM221.3,312.2L222.5,312.4L222.5,313.6L221.3,313.4ZM221.3,320.9L222.5,321.1L222.5,322.3L221.3,322.1ZM221.3,329.6L222.5,329.8L222.5,331.0L221.3,330.8ZM221.3,338.2L222.5,338.5L222.5,339.7L221.3,339.4ZM221.3,346.9L222.5,347.1L222.5,348.4L221.3,348.1ZM221.3,355.6L222.5,355.8L222.5,357.0L221.3,356.8ZM221.3,364.3L222.5,364.5L222.5,365.7L221.3,365.5ZM230.1,235.6L231.3,235.8L231.3,237.0L230.1,236.8ZM230.1,244.3L231.3,244.5L231.3,245.7L230.1,245.5ZM230.1,253.0L231.3,253.2L231.3,254.4L230.1,254.2ZM230.1,261.7L231.3,261.9L231.3,263.1L230.1,262.9ZM230.1,270.4L231.3,270.6L231.3,271.8L230.1,271.6ZM230.0,279.1L231.3,279.3L231.3,280.5L230.0,280.3ZM230.0,287.8L231.3,288.0L231.3,289.2L230.0,289.0ZM230.0,296.4L231.2,296.7L231.2,297.9L230.0,297.7ZM230.0,305.1L231.2,305.4L231.2,306.6L230.0,306.3ZM230.0,313.8L231.2,314.1L231.2,315.3L230.0,315.0ZM230.0,322.5L231.2,322.7L231.2,324.0L230.0,323.7ZM230.0,331.2L231.2,331.4L231.2,332.7L230.0,332.4ZM230.0,339.9L231.2,340.1L231.2,341.3L230.0,341.1ZM230.0,348.6L231.2,348.8L231.2,350.0L230.0,349.8ZM230.0,357.3L231.2,357.5L231.2,358.7L230.0,358.5ZM229.9,366.0L231.2,366.2L231.2,367.4L229.9,367.2ZM238.8,237.1L240.0,237.3L240.0,238.6L238.8,238.3ZM238.8,245.8L240.0,246.0L240.0,247.3L238.8,247.0ZM238.8,254.5L240.0,254.7L240.0,256.0L238.8,255.8ZM238.8,263.2L240.0,263.5L240.0,264.7L238.8,264.5ZM238.8,271.9L240.0,272.2L240.0,273.4L238.8,273.2ZM238.7,280.6L240.0,280.9L240.0,282.1L238.7,281.9ZM238.7,289.3L239.9,289.6L239.9,290.8L238.7,290.6ZM238.7,298.0L239.9,298.3L239.9,299.5L238.7,299.3ZM238.7,306.7L239.9,307.0L239.9,308.2L238.7,308.0ZM238.7,315.5L239.9,315.7L239.9,316.9L238.7,316.7ZM238.7,324.2L239.9,324.4L239.9,325.6L238.7,325.4ZM238.6,332.9L239.9,333.1L239.9,334.3L238.6,334.1ZM238.6,341.6L239.8,341.8L239.8,343.0L238.6,342.8ZM238.6,350.3L239.8,350.5L239.8,351.7L238.6,351.5ZM238.6,359.0L239.8,359.2L239.8,360.4L238.6,360.2ZM238.6,367.7L239.8,367.9L239.8,369.1L238.6,368.9ZM247.5,238.6L248.8,238.9L248.8,240.1L247.5,239.9ZM247.5,247.4L248.7,247.6L248.7,248.8L247.5,248.6ZM247.5,256.1L248.7,256.3L248.7,257.5L247.5,257.3ZM247.5,264.8L248.7,265.0L248.7,266.2L247.5,266.0ZM247.5,273.5L248.7,273.7L248.7,274.9L247.5,274.7ZM247.4,282.2L248.7,282.4L248.7,283.7L247.4,283.4ZM247.4,290.9L248.6,291.2L248.6,292.4L247.4,292.2ZM247.4,299.6L248.6,299.9L248.6,301.1L247.4,300.9ZM247.4,308.4L248.6,308.6L248.6,309.8L247.4,309.6ZM247.4,317.1L248.6,317.3L248.6,318.5L247.3,318.3ZM247.3,325.8L248.5,326.0L248.5,327.2L247.3,327.0ZM247.3,334.5L248.5,334.7L248.5,336.0L247.3,335.7ZM247.3,343.2L248.5,343.5L248.5,344.7L247.3,344.4ZM247.3,351.9L248.5,352.2L248.5,353.4L247.3,353.2ZM247.2,360.7L248.5,360.9L248.5,362.1L247.2,361.9ZM247.2,369.4L248.4,369.6L248.4,370.8L247.2,370.6ZM256.3,240.2L257.5,240.4L257.5,241.6L256.3,241.4ZM256.2,248.9L257.5,249.1L257.5,250.3L256.2,250.1ZM256.2,257.6L257.4,257.8L257.4,259.1L256.2,258.8ZM256.2,266.3L257.4,266.6L257.4,267.8L256.2,267.6ZM256.2,275.1L257.4,275.3L257.4,276.5L256.2,276.3ZM256.1,283.8L257.3,284.0L257.3,285.2L256.1,285.0ZM256.1,292.5L257.3,292.7L257.3,294.0L256.1,293.7ZM256.1,301.3L257.3,301.5L257.3,302.7L256.1,302.5ZM256.1,310.0L257.3,310.2L257.3,311.4L256.0,311.2ZM256.0,318.7L257.2,318.9L257.2,320.2L256.0,319.9ZM256.0,327.4L257.2,327.7L257.2,328.9L256.0,328.7ZM256.0,336.2L257.2,336.4L257.2,337.6L256.0,337.4ZM255.9,344.9L257.2,345.1L257.2,346.3L255.9,346.1ZM255.9,353.6L257.1,353.8L257.1,355.1L255.9,354.8ZM255.9,362.3L257.1,362.6L257.1,363.8L255.9,363.6ZM255.9,371.1L257.1,371.3L257.1,372.5L255.9,372.3ZM265.0,241.7L266.2,241.9L266.2,243.1L265.0,242.9ZM265.0,250.4L266.2,250.6L266.2,251.9L265.0,251.6ZM264.9,259.2L266.1,259.4L266.1,260.6L264.9,260.4ZM264.9,267.9L266.1,268.1L266.1,269.3L264.9,269.1ZM264.9,276.6L266.1,276.9L266.1,278.1L264.9,277.9ZM264.8,285.4L266.0,285.6L266.0,286.8L264.8,286.6ZM264.8,294.1L266.0,294.3L266.0,295.6L264.8,295.3ZM264.8,302.9L266.0,303.1L266.0,304.3L264.8,304.1ZM264.7,311.6L265.9,311.8L265.9,313.0L264.7,312.8ZM264.7,320.3L265.9,320.6L265.9,321.8L264.7,321.6ZM264.7,329.1L265.9,329.3L265.9,330.5L264.7,330.3ZM264.6,337.8L265.8,338.0L265.8,339.3L264.6,339.0ZM264.6,346.5L265.8,346.8L265.8,348.0L264.6,347.8ZM264.6,355.3L265.8,355.5L265.8,356.7L264.6,356.5ZM264.5,364.0L265.7,364.3L265.7,365.5L264.5,365.2ZM264.5,372.8L265.7,373.0L265.7,374.2L264.5,374.0ZM273.7,243.2L274.9,243.4L274.9,244.6L273.7,244.4ZM273.7,252.0L274.9,252.2L274.9,253.4L273.7,253.2ZM273.6,260.7L274.9,260.9L274.8,262.1L273.6,261.9ZM273.6,269.5L274.8,269.7L274.8,270.9L273.6,270.7ZM273.6,278.2L274.8,278.4L274.8,279.6L273.6,279.4ZM273.5,287.0L274.7,287.2L274.7,288.4L273.5,288.2ZM273.5,295.7L274.7,295.9L274.7,297.2L273.5,296.9ZM273.4,304.5L274.7,304.7L274.7,305.9L273.4,305.7ZM273.4,313.2L274.6,313.4L274.6,314.7L273.4,314.4ZM273.4,322.0L274.6,322.2L274.6,323.4L273.4,323.2ZM273.3,330.7L274.5,330.9L274.5,332.2L273.3,331.9ZM273.3,339.5L274.5,339.7L274.5,340.9L273.3,340.7ZM273.3,348.2L274.5,348.4L274.5,349.7L273.3,349.4ZM273.2,357.0L274.4,357.2L274.4,358.4L273.2,358.2ZM273.2,365.7L274.4,365.9L274.4,367.2L273.2,366.9ZM273.1,374.5L274.4,374.7L274.4,375.9L273.1,375.7ZM282.4,244.7L283.7,244.9L283.6,246.2L282.4,245.9ZM282.4,253.5L283.6,253.7L283.6,254.9L282.4,254.7ZM282.3,262.2L283.6,262.5L283.6,263.7L282.3,263.5ZM282.3,271.0L283.5,271.2L283.5,272.5L282.3,272.2ZM282.3,279.8L283.5,280.0L283.5,281.2L282.3,281.0ZM282.2,288.5L283.4,288.8L283.4,290.0L282.2,289.8ZM282.2,297.3L283.4,297.5L283.4,298.7L282.2,298.5ZM282.1,306.1L283.3,306.3L283.3,307.5L282.1,307.3ZM282.1,314.8L283.3,315.0L283.3,316.3L282.1,316.0ZM282.0,323.6L283.3,323.8L283.3,325.0L282.0,324.8ZM282.0,332.3L283.2,332.6L283.2,333.8L282.0,333.6ZM282.0,341.1L283.2,341.3L283.2,342.6L282.0,342.3ZM281.9,349.9L283.1,350.1L283.1,351.3L281.9,351.1ZM281.9,358.6L283.1,358.9L283.1,360.1L281.9,359.9ZM281.8,367.4L283.0,367.6L283.0,368.9L281.8,368.6ZM281.8,376.2L283.0,376.4L283.0,377.6L281.8,377.4ZM291.2,246.2L292.4,246.4L292.4,247.7L291.1,247.5ZM291.1,255.0L292.3,255.2L292.3,256.5L291.1,256.2ZM291.1,263.8L292.3,264.0L292.3,265.2L291.1,265.0ZM291.0,272.6L292.2,272.8L292.2,274.0L291.0,273.8ZM291.0,281.3L292.2,281.6L292.2,282.8L291.0,282.6ZM290.9,290.1L292.1,290.3L292.1,291.6L290.9,291.3ZM290.9,298.9L292.1,299.1L292.1,300.3L290.9,300.1ZM290.8,307.7L292.0,307.9L292.0,309.1L290.8,308.9ZM290.8,316.4L292.0,316.7L292.0,317.9L290.8,317.7ZM290.7,325.2L291.9,325.4L291.9,326.7L290.7,326.4ZM290.7,334.0L291.9,334.2L291.9,335.4L290.7,335.2ZM290.6,342.8L291.8,343.0L291.8,344.2L290.6,344.0ZM290.6,351.5L291.8,351.8L291.8,353.0L290.6,352.8ZM290.5,360.3L291.7,360.5L291.7,361.8L290.5,361.5ZM290.5,369.1L291.7,369.3L291.7,370.6L290.5,370.3ZM290.4,377.9L291.6,378.1L291.6,379.3L290.4,379.1ZM299.9,247.8L301.1,248.0L301.1,249.2L299.9,249.0ZM299.8,256.5L301.0,256.8L301.0,258.0L299.8,257.8ZM299.8,265.3L301.0,265.5L301.0,266.8L299.8,266.6ZM299.7,274.1L300.9,274.3L300.9,275.6L299.7,275.3ZM299.7,282.9L300.9,283.1L300.9,284.4L299.7,284.1ZM299.6,291.7L300.8,291.9L300.8,293.1L299.6,292.9ZM299.6,300.5L300.8,300.7L300.8,301.9L299.5,301.7ZM299.5,309.3L300.7,309.5L300.7,310.7L299.5,310.5ZM299.4,318.1L300.7,318.3L300.7,319.5L299.4,319.3ZM299.4,326.8L300.6,327.1L300.6,328.3L299.4,328.1ZM299.3,335.6L300.6,335.9L300.5,337.1L299.3,336.9ZM299.3,344.4L300.5,344.6L300.5,345.9L299.3,345.6ZM299.2,353.2L300.4,353.4L300.4,354.7L299.2,354.4ZM299.2,362.0L300.4,362.2L300.4,363.5L299.2,363.2ZM299.1,370.8L300.3,371.0L300.3,372.2L299.1,372.0ZM299.1,379.6L300.3,379.8L300.3,381.0L299.1,380.8ZM308.6,249.3L309.8,249.5L309.8,250.7L308.6,250.5ZM308.5,258.1L309.8,258.3L309.8,259.5L308.5,259.3ZM308.5,266.9L309.7,267.1L309.7,268.3L308.5,268.1ZM308.4,275.7L309.6,275.9L309.6,277.1L308.4,276.9ZM308.4,284.5L309.6,284.7L309.6,285.9L308.4,285.7ZM308.3,293.3L309.5,293.5L309.5,294.7L308.3,294.5ZM308.2,302.1L309.5,302.3L309.5,303.5L308.2,303.3ZM308.2,310.9L309.4,311.1L309.4,312.3L308.2,312.1ZM308.1,319.7L309.3,319.9L309.3,321.1L308.1,320.9ZM308.1,328.5L309.3,328.7L309.3,329.9L308.1,329.7ZM308.0,337.3L309.2,337.5L309.2,338.7L308.0,338.5ZM307.9,346.1L309.2,346.3L309.1,347.5L307.9,347.3ZM307.9,354.9L309.1,355.1L309.1,356.3L307.9,356.1ZM307.8,363.7L309.0,363.9L309.0,365.1L307.8,364.9ZM307.8,372.5L309.0,372.7L309.0,373.9L307.8,373.7ZM307.7,381.3L308.9,381.5L308.9,382.7L307.7,382.5Z" fill="#9db4bc"/>
<path d="M174.0,226.2L313.6,250.5L313.6,251.2L174.0,226.9ZM174.0,234.8L313.5,259.3L313.5,260.0L174.0,235.5ZM174.1,243.4L313.4,268.1L313.4,268.9L174.1,244.1ZM174.1,252.0L313.4,276.9L313.4,277.7L174.1,252.8ZM174.1,260.6L313.3,285.7L313.3,286.5L174.1,261.4ZM174.1,269.3L313.3,294.5L313.3,295.3L174.1,270.0ZM174.2,277.9L313.2,303.3L313.2,304.1L174.2,278.6ZM174.2,286.5L313.1,312.1L313.1,312.9L174.2,287.2ZM174.2,295.1L313.1,320.9L313.1,321.7L174.2,295.8ZM174.2,303.7L313.0,329.7L313.0,330.5L174.2,304.4ZM174.3,312.3L312.9,338.6L312.9,339.3L174.3,313.0ZM174.3,320.9L312.9,347.4L312.9,348.1L174.3,321.7ZM174.3,329.5L312.8,356.2L312.8,356.9L174.3,330.3ZM174.3,338.2L312.8,365.0L312.8,365.7L174.3,338.9ZM174.4,346.8L312.7,373.8L312.7,374.5L174.4,347.5ZM174.4,355.4L312.6,382.6L312.6,383.3L174.4,356.1Z" fill="#c06a10" opacity="0.7"/>
<g clip-path="url(#clipe)"><path d="M174.0,221.5L313.6,245.7L313.6,247.0L174.0,222.7ZM174.0,230.2L313.5,254.5L313.5,255.8L174.0,231.4ZM174.0,238.8L313.5,263.3L313.5,264.6L174.1,240.0ZM174.1,247.4L313.4,272.2L313.4,273.4L174.1,248.6ZM174.1,256.0L313.4,281.0L313.3,282.2L174.1,257.2ZM174.1,264.6L313.3,289.8L313.3,291.0L174.1,265.8ZM174.1,273.2L313.2,298.6L313.2,299.8L174.2,274.4ZM174.2,281.8L313.2,307.4L313.2,308.6L174.2,283.0ZM174.2,290.4L313.1,316.2L313.1,317.4L174.2,291.6ZM174.2,299.1L313.0,325.0L313.0,326.2L174.2,300.3ZM174.2,307.7L313.0,333.8L313.0,335.0L174.3,308.9ZM174.3,316.3L312.9,342.6L312.9,343.8L174.3,317.5ZM174.3,324.9L312.9,351.4L312.8,352.6L174.3,326.1ZM174.3,333.5L312.8,360.2L312.8,361.4L174.3,334.7ZM174.3,342.1L312.7,369.0L312.7,370.3L174.4,343.3ZM174.4,350.7L312.7,377.8L312.7,379.1L174.4,351.9ZM174.4,359.3L312.6,386.6L312.6,387.9L174.4,360.5Z" fill="#c45c12"/><path d="M174.0,221.9L313.6,246.1L313.6,246.7L174.0,222.5ZM174.0,230.5L313.5,254.9L313.5,255.5L174.0,231.1ZM174.1,239.1L313.5,263.7L313.5,264.3L174.1,239.7ZM174.1,247.7L313.4,272.5L313.4,273.1L174.1,248.3ZM174.1,256.3L313.3,281.3L313.3,281.9L174.1,256.9ZM174.1,264.9L313.3,290.1L313.3,290.7L174.1,265.5ZM174.2,273.6L313.2,298.9L313.2,299.5L174.2,274.1ZM174.2,282.2L313.2,307.7L313.2,308.3L174.2,282.8ZM174.2,290.8L313.1,316.5L313.1,317.1L174.2,291.4ZM174.2,299.4L313.0,325.3L313.0,325.9L174.2,300.0ZM174.3,308.0L313.0,334.2L313.0,334.7L174.3,308.6ZM174.3,316.6L312.9,343.0L312.9,343.6L174.3,317.2ZM174.3,325.2L312.8,351.8L312.8,352.4L174.3,325.8ZM174.3,333.8L312.8,360.6L312.8,361.2L174.3,334.4ZM174.4,342.5L312.7,369.4L312.7,370.0L174.4,343.0ZM174.4,351.1L312.7,378.2L312.7,378.8L174.4,351.7ZM174.4,359.1L312.6,386.4L312.6,386.9L174.4,359.6Z" fill="#5c2e0a"/></g>
<path d="M173.7,221.8L174.4,221.9L174.8,359.7L174.1,359.5ZM182.5,223.3L183.2,223.4L183.5,361.4L182.8,361.3ZM191.2,224.8L191.9,224.9L192.1,363.1L191.4,363.0ZM199.9,226.3L200.6,226.4L200.7,364.8L200.1,364.7ZM208.6,227.8L209.3,227.9L209.4,366.5L208.7,366.4ZM217.4,229.3L218.1,229.4L218.0,368.2L217.3,368.1ZM226.1,230.8L226.8,231.0L226.7,369.9L226.0,369.8ZM234.8,232.3L235.5,232.5L235.3,371.6L234.6,371.5ZM243.5,233.9L244.2,234.0L243.9,373.3L243.2,373.2ZM252.3,235.4L253.0,235.5L252.6,375.0L251.9,374.9ZM261.0,236.9L261.7,237.0L261.2,376.7L260.5,376.6ZM269.7,238.4L270.4,238.5L269.8,378.5L269.2,378.3ZM278.4,239.9L279.1,240.0L278.5,380.2L277.8,380.0ZM287.2,241.4L287.9,241.5L287.1,381.9L286.4,381.7ZM295.9,242.9L296.6,243.1L295.8,383.6L295.1,383.4ZM304.6,244.4L305.3,244.6L304.4,385.3L303.7,385.1ZM313.3,246.0L314.0,246.1L313.0,387.0L312.3,386.8Z" fill="#b04c0c" opacity="0.55"/>
<clipPath id="clipe"><polygon points="174.00,221.80 313.60,246.00 312.60,386.90 174.40,359.60"/></clipPath>
<polygon points="174.00,221.10 314.60,245.30 314.60,246.20 174.00,222.20" fill="#4a2a08"/>
<polygon points="313.60,246.00 314.70,245.50 313.70,386.60 312.60,386.90" fill="#b35a14"/>
<text x="153.50" y="15.05" font-size="13.2" text-anchor="start">(b)</text>
<text x="153.50" y="211.95" font-size="13.2" text-anchor="start">(e)</text>
<defs>
<linearGradient id="gb1" gradientUnits="userSpaceOnUse" x1="155.5" y1="127.5" x2="245.5" y2="106.0">
<stop offset="0.000" stop-color="#f01010"/>
<stop offset="0.090" stop-color="#f82c10"/>
<stop offset="0.190" stop-color="#f88a18"/>
<stop offset="0.310" stop-color="#e6e018"/>
<stop offset="0.420" stop-color="#70dc18"/>
<stop offset="0.520" stop-color="#18cc28"/>
<stop offset="0.680" stop-color="#10cc50"/>
<stop offset="0.780" stop-color="#10ccb0"/>
<stop offset="0.870" stop-color="#10a0e8"/>
<stop offset="0.950" stop-color="#1050e0"/>
<stop offset="1.000" stop-color="#2030c0"/>
</linearGradient>
<linearGradient id="gb2" gradientUnits="userSpaceOnUse" x1="227.0" y1="145.0" x2="243.0" y2="107.0">
<stop offset="0.000" stop-color="#ee0c0c"/>
<stop offset="0.300" stop-color="#f41c0c"/>
<stop offset="0.400" stop-color="#f86a14"/>
<stop offset="0.470" stop-color="#f8a018"/>
<stop offset="0.565" stop-color="#e6e018"/>
<stop offset="0.645" stop-color="#80dc18"/>
<stop offset="0.740" stop-color="#18c830"/>
<stop offset="0.800" stop-color="#10c870"/>
<stop offset="0.870" stop-color="#10c4c0"/>
<stop offset="0.940" stop-color="#1088e0"/>
<stop offset="1.000" stop-color="#1050e0"/>
</linearGradient>
<linearGradient id="gbw" gradientUnits="userSpaceOnUse" x1="217.0" y1="125.0" x2="245.0" y2="106.0">
<stop offset="0.000" stop-color="#20c830"/>
<stop offset="0.400" stop-color="#18c858"/>
<stop offset="0.650" stop-color="#14c4b0"/>
<stop offset="0.850" stop-color="#1888e0"/>
<stop offset="1.000" stop-color="#2050d8"/>
</linearGradient>
<linearGradient id="gbf" gradientUnits="userSpaceOnUse" x1="213.0" y1="104.0" x2="245.0" y2="106.0">
<stop offset="0.000" stop-color="#28d8c8"/>
<stop offset="0.400" stop-color="#20b8e0"/>
<stop offset="0.750" stop-color="#2070e0"/>
<stop offset="1.000" stop-color="#2040c8"/>
</linearGradient>
<linearGradient id="gew" gradientUnits="userSpaceOnUse" x1="216.0" y1="318.0" x2="244.0" y2="305.0">
<stop offset="0.000" stop-color="#25cc35"/>
<stop offset="0.450" stop-color="#20cc60"/>
<stop offset="0.750" stop-color="#18c8b8"/>
<stop offset="1.000" stop-color="#2080e0"/>
</linearGradient>
<linearGradient id="gen" gradientUnits="userSpaceOnUse" x1="241.0" y1="320.0" x2="243.5" y2="305.5">
<stop offset="0.000" stop-color="#30cc40"/>
<stop offset="0.500" stop-color="#18c8a8"/>
<stop offset="1.000" stop-color="#2090e0"/>
</linearGradient>
<linearGradient id="sh1" gradientUnits="userSpaceOnUse" x1="198" y1="108" x2="201.5" y2="124"><stop offset="0" stop-color="#fff" stop-opacity="0.10"/><stop offset="0.45" stop-color="#fff" stop-opacity="0"/><stop offset="1" stop-color="#000" stop-opacity="0.16"/></linearGradient>
<linearGradient id="sh2" gradientUnits="userSpaceOnUse" x1="222" y1="128" x2="242" y2="137"><stop offset="0" stop-color="#000" stop-opacity="0.14"/><stop offset="0.5" stop-color="#fff" stop-opacity="0.05"/><stop offset="1" stop-color="#000" stop-opacity="0.10"/></linearGradient>
<linearGradient id="sh3" gradientUnits="userSpaceOnUse" x1="200" y1="301" x2="200.8" y2="316"><stop offset="0" stop-color="#fff" stop-opacity="0.10"/><stop offset="0.45" stop-color="#fff" stop-opacity="0"/><stop offset="1" stop-color="#000" stop-opacity="0.16"/></linearGradient>
<linearGradient id="sh4" gradientUnits="userSpaceOnUse" x1="266" y1="318" x2="254" y2="328"><stop offset="0" stop-color="#fff" stop-opacity="0.08"/><stop offset="0.5" stop-color="#fff" stop-opacity="0"/><stop offset="1" stop-color="#000" stop-opacity="0.15"/></linearGradient>
<linearGradient id="ge1" gradientUnits="userSpaceOnUse" x1="159.0" y1="310.5" x2="244.5" y2="305.0">
<stop offset="0.000" stop-color="#f01010"/>
<stop offset="0.080" stop-color="#f82c10"/>
<stop offset="0.170" stop-color="#f88a18"/>
<stop offset="0.270" stop-color="#e6e018"/>
<stop offset="0.370" stop-color="#70dc18"/>
<stop offset="0.470" stop-color="#18cc28"/>
<stop offset="0.620" stop-color="#10cc50"/>
<stop offset="0.740" stop-color="#10ccb0"/>
<stop offset="0.850" stop-color="#10a0e8"/>
<stop offset="0.940" stop-color="#1050e0"/>
<stop offset="1.000" stop-color="#2030c0"/>
</linearGradient>
<linearGradient id="ge2" gradientUnits="userSpaceOnUse" x1="268.0" y1="334.0" x2="245.0" y2="305.0">
<stop offset="0.000" stop-color="#ee0c0c"/>
<stop offset="0.300" stop-color="#f41c0c"/>
<stop offset="0.400" stop-color="#f86a14"/>
<stop offset="0.460" stop-color="#f8a018"/>
<stop offset="0.600" stop-color="#e6e018"/>
<stop offset="0.690" stop-color="#80dc18"/>
<stop offset="0.790" stop-color="#18c830"/>
<stop offset="0.860" stop-color="#10c870"/>
<stop offset="0.920" stop-color="#10c4c0"/>
<stop offset="0.970" stop-color="#1088e0"/>
<stop offset="1.000" stop-color="#1050e0"/>
</linearGradient>
</defs>
<path d="M245.3,104.8C243.8,104.5 239.6,103.6 236.0,103.2C232.4,102.8 227.9,102.6 224.0,102.6C220.1,102.6 213.8,102.7 212.8,103.2C211.8,103.7 215.5,104.7 218.0,105.5C220.5,106.3 223.4,107.8 228.0,108.0C232.6,108.2 242.4,107.2 245.3,107.0Z" fill="url(#gbf)"/>
<path d="M245.5,105.6C246.2,105.8 248.5,105.9 250.0,106.5C251.5,107.1 253.3,108.0 254.5,109.0C255.7,110.0 256.8,111.8 257.0,112.8C257.2,113.8 256.4,114.8 255.5,115.0C254.6,115.2 252.8,114.6 251.5,113.8C250.2,113.0 248.4,111.0 247.5,110.0C246.6,109.0 246.2,107.9 246.0,107.5Z" fill="#25b6dc"/>
<path d="M245.5,105.6C245.9,105.7 247.0,105.8 248.0,106.1C249.0,106.4 251.3,107.2 251.5,107.6C251.7,108.0 249.9,108.5 249.0,108.4C248.1,108.3 246.5,107.4 246.0,107.2Z" fill="#2268e0"/>
<path d="M245.0,105.5C242.8,106.2 236.5,107.8 232.0,110.0C227.5,112.2 220.6,116.8 218.0,119.0C215.4,121.2 216.4,121.9 216.3,123.0C216.2,124.1 216.8,125.3 217.7,125.7C218.6,126.1 220.6,126.3 222.0,125.6C223.4,124.9 224.0,123.3 226.0,121.5C228.0,119.7 232.7,115.7 234.0,114.5Z" fill="url(#gbw)"/>
<path d="M245.2,105.6C244.0,106.6 240.7,109.3 238.0,111.5C235.3,113.7 231.5,116.1 229.0,118.5C226.5,120.9 224.6,123.6 223.2,126.0C221.8,128.4 221.0,130.8 220.6,133.0C220.2,135.2 220.2,137.7 220.8,139.5C221.5,141.3 223.0,143.0 224.5,144.0C226.0,145.0 228.0,145.5 230.0,145.3C232.0,145.1 234.7,144.3 236.5,143.0C238.3,141.7 239.8,140.2 241.0,137.5C242.2,134.8 243.1,130.6 243.8,127.0C244.5,123.4 245.1,119.5 245.4,116.0C245.7,112.5 245.7,107.7 245.8,106.0Z" fill="url(#gb2)"/>
<path d="M245.2,105.6C244.0,106.6 240.7,109.3 238.0,111.5C235.3,113.7 231.5,116.1 229.0,118.5C226.5,120.9 224.6,123.6 223.2,126.0C221.8,128.4 221.0,130.8 220.6,133.0C220.2,135.2 220.2,137.7 220.8,139.5C221.5,141.3 223.0,143.0 224.5,144.0C226.0,145.0 228.0,145.5 230.0,145.3C232.0,145.1 234.7,144.3 236.5,143.0C238.3,141.7 239.8,140.2 241.0,137.5C242.2,134.8 243.1,130.6 243.8,127.0C244.5,123.4 245.1,119.5 245.4,116.0C245.7,112.5 245.7,107.7 245.8,106.0Z" fill="url(#sh2)"/>
<path d="M245.5,105.0C242.9,105.1 235.4,105.5 230.0,105.8C224.6,106.1 218.2,106.5 213.0,107.0C207.8,107.5 203.7,108.2 199.0,109.0C194.3,109.8 189.7,110.6 185.0,111.8C180.3,113.0 175.0,114.3 171.0,116.0C167.0,117.7 163.7,120.2 161.2,121.7C158.7,123.2 157.0,124.2 156.0,125.2C155.0,126.2 154.9,127.0 155.3,128.0C155.7,128.9 156.7,130.2 158.4,130.9C160.1,131.6 162.1,132.2 165.4,132.2C168.7,132.2 173.6,131.7 178.0,130.8C182.4,129.9 187.3,128.0 192.0,126.8C196.7,125.6 201.7,124.5 206.0,123.6C210.3,122.7 213.7,122.9 218.0,121.6C222.3,120.2 227.4,118.0 232.0,115.5C236.6,113.0 243.5,108.1 245.8,106.6Z" fill="url(#gb1)"/>
<path d="M245.5,105.0C242.9,105.1 235.4,105.5 230.0,105.8C224.6,106.1 218.2,106.5 213.0,107.0C207.8,107.5 203.7,108.2 199.0,109.0C194.3,109.8 189.7,110.6 185.0,111.8C180.3,113.0 175.0,114.3 171.0,116.0C167.0,117.7 163.7,120.2 161.2,121.7C158.7,123.2 157.0,124.2 156.0,125.2C155.0,126.2 154.9,127.0 155.3,128.0C155.7,128.9 156.7,130.2 158.4,130.9C160.1,131.6 162.1,132.2 165.4,132.2C168.7,132.2 173.6,131.7 178.0,130.8C182.4,129.9 187.3,128.0 192.0,126.8C196.7,125.6 201.7,124.5 206.0,123.6C210.3,122.7 213.7,122.9 218.0,121.6C222.3,120.2 227.4,118.0 232.0,115.5C236.6,113.0 243.5,108.1 245.8,106.6Z" fill="url(#sh1)"/>
<path d="M244.5,304.4C243.1,303.9 238.8,302.3 236.0,301.6C233.2,300.9 230.4,300.5 228.0,300.3C225.6,300.1 221.7,299.8 221.4,300.2C221.1,300.6 223.6,301.9 226.0,302.6C228.4,303.3 232.9,304.1 236.0,304.6C239.1,305.1 243.1,305.6 244.5,305.8Z" fill="#22b8de"/>
<path d="M244.0,305.0C243.2,305.6 241.3,307.2 239.4,308.6C237.5,310.0 233.8,312.1 232.6,313.4C231.4,314.7 233.0,315.9 232.5,316.2C232.0,316.5 231.3,314.8 229.5,315.4C227.7,316.0 223.7,319.0 221.6,319.6C219.5,320.2 218.1,319.6 217.1,318.9C216.1,318.2 215.1,316.9 215.6,315.6C216.1,314.3 217.3,312.6 220.0,311.0C222.7,309.4 230.0,306.8 232.0,306.0Z" fill="url(#gew)"/>
<path d="M243.6,305.5C243.6,306.6 243.6,309.7 243.4,312.0C243.2,314.3 242.7,318.1 242.3,319.4C241.9,320.7 241.3,320.9 241.0,320.0C240.7,319.1 240.1,316.3 240.3,314.0C240.5,311.7 241.7,307.3 242.0,306.0Z" fill="url(#gen)"/>
<path d="M244.2,304.8C245.1,305.0 247.2,304.8 249.6,305.8C252.0,306.8 255.8,308.9 258.6,310.8C261.4,312.7 264.2,315.4 266.2,317.4C268.1,319.4 269.5,321.2 270.3,323.0C271.1,324.8 271.1,326.3 270.8,328.0C270.5,329.7 269.6,331.9 268.6,333.0C267.6,334.1 266.4,334.7 265.0,334.8C263.6,334.9 261.5,334.3 260.0,333.6C258.5,332.9 257.7,332.5 256.0,330.8C254.3,329.1 251.3,326.0 249.6,323.2C247.9,320.4 246.7,316.8 245.8,314.2C244.9,311.6 244.6,308.9 244.3,307.9Z" fill="url(#ge2)"/>
<path d="M244.2,304.8C245.1,305.0 247.2,304.8 249.6,305.8C252.0,306.8 255.8,308.9 258.6,310.8C261.4,312.7 264.2,315.4 266.2,317.4C268.1,319.4 269.5,321.2 270.3,323.0C271.1,324.8 271.1,326.3 270.8,328.0C270.5,329.7 269.6,331.9 268.6,333.0C267.6,334.1 266.4,334.7 265.0,334.8C263.6,334.9 261.5,334.3 260.0,333.6C258.5,332.9 257.7,332.5 256.0,330.8C254.3,329.1 251.3,326.0 249.6,323.2C247.9,320.4 246.7,316.8 245.8,314.2C244.9,311.6 244.6,308.9 244.3,307.9Z" fill="url(#sh4)"/>
<path d="M245.0,304.3C242.8,303.9 236.2,302.4 232.0,301.8C227.8,301.2 224.0,301.1 220.0,301.0C216.0,300.9 212.7,300.8 208.0,301.0C203.3,301.2 197.3,301.6 192.0,302.0C186.7,302.4 180.3,302.9 176.0,303.5C171.7,304.1 168.6,304.6 166.0,305.3C163.4,306.0 161.6,306.6 160.3,307.5C159.1,308.4 158.5,309.4 158.5,310.5C158.5,311.6 159.2,313.1 160.5,314.0C161.8,314.9 163.4,315.6 166.0,316.0C168.6,316.4 171.7,316.5 176.0,316.5C180.3,316.5 186.7,316.5 192.0,316.2C197.3,315.9 203.0,315.4 208.0,314.8C213.0,314.2 217.7,313.6 222.0,312.8C226.3,312.0 230.1,311.0 234.0,309.8C237.9,308.6 243.4,306.3 245.3,305.6Z" fill="url(#ge1)"/>
<path d="M245.0,304.3C242.8,303.9 236.2,302.4 232.0,301.8C227.8,301.2 224.0,301.1 220.0,301.0C216.0,300.9 212.7,300.8 208.0,301.0C203.3,301.2 197.3,301.6 192.0,302.0C186.7,302.4 180.3,302.9 176.0,303.5C171.7,304.1 168.6,304.6 166.0,305.3C163.4,306.0 161.6,306.6 160.3,307.5C159.1,308.4 158.5,309.4 158.5,310.5C158.5,311.6 159.2,313.1 160.5,314.0C161.8,314.9 163.4,315.6 166.0,316.0C168.6,316.4 171.7,316.5 176.0,316.5C180.3,316.5 186.7,316.5 192.0,316.2C197.3,315.9 203.0,315.4 208.0,314.8C213.0,314.2 217.7,313.6 222.0,312.8C226.3,312.0 230.1,311.0 234.0,309.8C237.9,308.6 243.4,306.3 245.3,305.6Z" fill="url(#sh3)"/>
<defs><linearGradient id="cb" x1="0" y1="0" x2="0" y2="1">
<stop offset="0.00" stop-color="#f8505a"/>
<stop offset="0.10" stop-color="#f86050"/>
<stop offset="0.17" stop-color="#f89040"/>
<stop offset="0.26" stop-color="#f4d838"/>
<stop offset="0.31" stop-color="#e0ec38"/>
<stop offset="0.38" stop-color="#90ec40"/>
<stop offset="0.45" stop-color="#40e848"/>
<stop offset="0.56" stop-color="#30e860"/>
<stop offset="0.64" stop-color="#30e8a8"/>
<stop offset="0.71" stop-color="#30e8d8"/>
<stop offset="0.77" stop-color="#30dcf0"/>
<stop offset="0.83" stop-color="#30b8f0"/>
<stop offset="0.89" stop-color="#3c88f0"/>
<stop offset="0.95" stop-color="#4868ee"/>
<stop offset="1.00" stop-color="#5a50e0"/>
</linearGradient></defs>
<rect x="353.3" y="47.2" width="12.4" height="128.1" fill="url(#cb)" stroke="#6a3a3a" stroke-width="0.5" stroke-opacity="0.55"/>
<text x="342.00" y="50.70" font-size="8.6" text-anchor="end">0</text>
<text x="342.00" y="62.29" font-size="8.6" text-anchor="end">−1.82</text>
<text x="342.00" y="73.88" font-size="8.6" text-anchor="end">−3.64</text>
<text x="342.00" y="85.47" font-size="8.6" text-anchor="end">−5.45</text>
<text x="342.00" y="97.06" font-size="8.6" text-anchor="end">−7.27</text>
<text x="342.00" y="108.65" font-size="8.6" text-anchor="end">−9.09</text>
<text x="342.00" y="120.25" font-size="8.6" text-anchor="end">−10.9</text>
<text x="342.00" y="131.84" font-size="8.6" text-anchor="end">−12.7</text>
<text x="342.00" y="143.43" font-size="8.6" text-anchor="end">−14.5</text>
<text x="342.00" y="155.02" font-size="8.6" text-anchor="end">−16.4</text>
<text x="342.00" y="166.61" font-size="8.6" text-anchor="end">−18.2</text>
<text x="342.00" y="178.20" font-size="8.6" text-anchor="end">−20</text>
<line x1="345.0" y1="47.80" x2="353.3" y2="47.80" stroke="#444" stroke-width="0.75"/>
<line x1="353.3" y1="47.80" x2="365.7" y2="47.80" stroke="#666" stroke-width="0.4" opacity="0.3"/>
<line x1="349.2" y1="50.70" x2="353.3" y2="50.70" stroke="#444" stroke-width="0.75"/>
<line x1="353.3" y1="50.70" x2="365.7" y2="50.70" stroke="#666" stroke-width="0.4" opacity="0.3"/>
<line x1="349.2" y1="53.60" x2="353.3" y2="53.60" stroke="#444" stroke-width="0.75"/>
<line x1="353.3" y1="53.60" x2="365.7" y2="53.60" stroke="#666" stroke-width="0.4" opacity="0.3"/>
<line x1="349.2" y1="56.49" x2="353.3" y2="56.49" stroke="#444" stroke-width="0.75"/>
<line x1="353.3" y1="56.49" x2="365.7" y2="56.49" stroke="#666" stroke-width="0.4" opacity="0.3"/>
<line x1="345.0" y1="59.39" x2="353.3" y2="59.39" stroke="#444" stroke-width="0.75"/>
<line x1="353.3" y1="59.39" x2="365.7" y2="59.39" stroke="#666" stroke-width="0.4" opacity="0.3"/>
<line x1="349.2" y1="62.29" x2="353.3" y2="62.29" stroke="#444" stroke-width="0.75"/>
<line x1="353.3" y1="62.29" x2="365.7" y2="62.29" stroke="#666" stroke-width="0.4" opacity="0.3"/>
<line x1="349.2" y1="65.19" x2="353.3" y2="65.19" stroke="#444" stroke-width="0.75"/>
<line x1="353.3" y1="65.19" x2="365.7" y2="65.19" stroke="#666" stroke-width="0.4" opacity="0.3"/>
<line x1="349.2" y1="68.08" x2="353.3" y2="68.08" stroke="#444" stroke-width="0.75"/>
<line x1="353.3" y1="68.08" x2="365.7" y2="68.08" stroke="#666" stroke-width="0.4" opacity="0.3"/>
<line x1="345.0" y1="70.98" x2="353.3" y2="70.98" stroke="#444" stroke-width="0.75"/>
<line x1="353.3" y1="70.98" x2="365.7" y2="70.98" stroke="#666" stroke-width="0.4" opacity="0.3"/>
<line x1="349.2" y1="73.88" x2="353.3" y2="73.88" stroke="#444" stroke-width="0.75"/>
<line x1="353.3" y1="73.88" x2="365.7" y2="73.88" stroke="#666" stroke-width="0.4" opacity="0.3"/>
<line x1="349.2" y1="76.78" x2="353.3" y2="76.78" stroke="#444" stroke-width="0.75"/>
<line x1="353.3" y1="76.78" x2="365.7" y2="76.78" stroke="#666" stroke-width="0.4" opacity="0.3"/>
<line x1="349.2" y1="79.67" x2="353.3" y2="79.67" stroke="#444" stroke-width="0.75"/>
<line x1="353.3" y1="79.67" x2="365.7" y2="79.67" stroke="#666" stroke-width="0.4" opacity="0.3"/>
<line x1="345.0" y1="82.57" x2="353.3" y2="82.57" stroke="#444" stroke-width="0.75"/>
<line x1="353.3" y1="82.57" x2="365.7" y2="82.57" stroke="#666" stroke-width="0.4" opacity="0.3"/>
<line x1="349.2" y1="85.47" x2="353.3" y2="85.47" stroke="#444" stroke-width="0.75"/>
<line x1="353.3" y1="85.47" x2="365.7" y2="85.47" stroke="#666" stroke-width="0.4" opacity="0.3"/>
<line x1="349.2" y1="88.37" x2="353.3" y2="88.37" stroke="#444" stroke-width="0.75"/>
<line x1="353.3" y1="88.37" x2="365.7" y2="88.37" stroke="#666" stroke-width="0.4" opacity="0.3"/>
<line x1="349.2" y1="91.27" x2="353.3" y2="91.27" stroke="#444" stroke-width="0.75"/>
<line x1="353.3" y1="91.27" x2="365.7" y2="91.27" stroke="#666" stroke-width="0.4" opacity="0.3"/>
<line x1="345.0" y1="94.16" x2="353.3" y2="94.16" stroke="#444" stroke-width="0.75"/>
<line x1="353.3" y1="94.16" x2="365.7" y2="94.16" stroke="#666" stroke-width="0.4" opacity="0.3"/>
<line x1="349.2" y1="97.06" x2="353.3" y2="97.06" stroke="#444" stroke-width="0.75"/>
<line x1="353.3" y1="97.06" x2="365.7" y2="97.06" stroke="#666" stroke-width="0.4" opacity="0.3"/>
<line x1="349.2" y1="99.96" x2="353.3" y2="99.96" stroke="#444" stroke-width="0.75"/>
<line x1="353.3" y1="99.96" x2="365.7" y2="99.96" stroke="#666" stroke-width="0.4" opacity="0.3"/>
<line x1="349.2" y1="102.86" x2="353.3" y2="102.86" stroke="#444" stroke-width="0.75"/>
<line x1="353.3" y1="102.86" x2="365.7" y2="102.86" stroke="#666" stroke-width="0.4" opacity="0.3"/>
<line x1="345.0" y1="105.75" x2="353.3" y2="105.75" stroke="#444" stroke-width="0.75"/>
<line x1="353.3" y1="105.75" x2="365.7" y2="105.75" stroke="#666" stroke-width="0.4" opacity="0.3"/>
<line x1="349.2" y1="108.65" x2="353.3" y2="108.65" stroke="#444" stroke-width="0.75"/>
<line x1="353.3" y1="108.65" x2="365.7" y2="108.65" stroke="#666" stroke-width="0.4" opacity="0.3"/>
<line x1="349.2" y1="111.55" x2="353.3" y2="111.55" stroke="#444" stroke-width="0.75"/>
<line x1="353.3" y1="111.55" x2="365.7" y2="111.55" stroke="#666" stroke-width="0.4" opacity="0.3"/>
<line x1="349.2" y1="114.45" x2="353.3" y2="114.45" stroke="#444" stroke-width="0.75"/>
<line x1="353.3" y1="114.45" x2="365.7" y2="114.45" stroke="#666" stroke-width="0.4" opacity="0.3"/>
<line x1="345.0" y1="117.35" x2="353.3" y2="117.35" stroke="#444" stroke-width="0.75"/>
<line x1="353.3" y1="117.35" x2="365.7" y2="117.35" stroke="#666" stroke-width="0.4" opacity="0.3"/>
<line x1="349.2" y1="120.24" x2="353.3" y2="120.24" stroke="#444" stroke-width="0.75"/>
<line x1="353.3" y1="120.24" x2="365.7" y2="120.24" stroke="#666" stroke-width="0.4" opacity="0.3"/>
<line x1="349.2" y1="123.14" x2="353.3" y2="123.14" stroke="#444" stroke-width="0.75"/>
<line x1="353.3" y1="123.14" x2="365.7" y2="123.14" stroke="#666" stroke-width="0.4" opacity="0.3"/>
<line x1="349.2" y1="126.04" x2="353.3" y2="126.04" stroke="#444" stroke-width="0.75"/>
<line x1="353.3" y1="126.04" x2="365.7" y2="126.04" stroke="#666" stroke-width="0.4" opacity="0.3"/>
<line x1="345.0" y1="128.94" x2="353.3" y2="128.94" stroke="#444" stroke-width="0.75"/>
<line x1="353.3" y1="128.94" x2="365.7" y2="128.94" stroke="#666" stroke-width="0.4" opacity="0.3"/>
<line x1="349.2" y1="131.83" x2="353.3" y2="131.83" stroke="#444" stroke-width="0.75"/>
<line x1="353.3" y1="131.83" x2="365.7" y2="131.83" stroke="#666" stroke-width="0.4" opacity="0.3"/>
<line x1="349.2" y1="134.73" x2="353.3" y2="134.73" stroke="#444" stroke-width="0.75"/>
<line x1="353.3" y1="134.73" x2="365.7" y2="134.73" stroke="#666" stroke-width="0.4" opacity="0.3"/>
<line x1="349.2" y1="137.63" x2="353.3" y2="137.63" stroke="#444" stroke-width="0.75"/>
<line x1="353.3" y1="137.63" x2="365.7" y2="137.63" stroke="#666" stroke-width="0.4" opacity="0.3"/>
<line x1="345.0" y1="140.53" x2="353.3" y2="140.53" stroke="#444" stroke-width="0.75"/>
<line x1="353.3" y1="140.53" x2="365.7" y2="140.53" stroke="#666" stroke-width="0.4" opacity="0.3"/>
<line x1="349.2" y1="143.43" x2="353.3" y2="143.43" stroke="#444" stroke-width="0.75"/>
<line x1="353.3" y1="143.43" x2="365.7" y2="143.43" stroke="#666" stroke-width="0.4" opacity="0.3"/>
<line x1="349.2" y1="146.32" x2="353.3" y2="146.32" stroke="#444" stroke-width="0.75"/>
<line x1="353.3" y1="146.32" x2="365.7" y2="146.32" stroke="#666" stroke-width="0.4" opacity="0.3"/>
<line x1="349.2" y1="149.22" x2="353.3" y2="149.22" stroke="#444" stroke-width="0.75"/>
<line x1="353.3" y1="149.22" x2="365.7" y2="149.22" stroke="#666" stroke-width="0.4" opacity="0.3"/>
<line x1="345.0" y1="152.12" x2="353.3" y2="152.12" stroke="#444" stroke-width="0.75"/>
<line x1="353.3" y1="152.12" x2="365.7" y2="152.12" stroke="#666" stroke-width="0.4" opacity="0.3"/>
<line x1="349.2" y1="155.02" x2="353.3" y2="155.02" stroke="#444" stroke-width="0.75"/>
<line x1="353.3" y1="155.02" x2="365.7" y2="155.02" stroke="#666" stroke-width="0.4" opacity="0.3"/>
<line x1="349.2" y1="157.91" x2="353.3" y2="157.91" stroke="#444" stroke-width="0.75"/>
<line x1="353.3" y1="157.91" x2="365.7" y2="157.91" stroke="#666" stroke-width="0.4" opacity="0.3"/>
<line x1="349.2" y1="160.81" x2="353.3" y2="160.81" stroke="#444" stroke-width="0.75"/>
<line x1="353.3" y1="160.81" x2="365.7" y2="160.81" stroke="#666" stroke-width="0.4" opacity="0.3"/>
<line x1="345.0" y1="163.71" x2="353.3" y2="163.71" stroke="#444" stroke-width="0.75"/>
<line x1="353.3" y1="163.71" x2="365.7" y2="163.71" stroke="#666" stroke-width="0.4" opacity="0.3"/>
<line x1="349.2" y1="166.61" x2="353.3" y2="166.61" stroke="#444" stroke-width="0.75"/>
<line x1="353.3" y1="166.61" x2="365.7" y2="166.61" stroke="#666" stroke-width="0.4" opacity="0.3"/>
<line x1="349.2" y1="169.50" x2="353.3" y2="169.50" stroke="#444" stroke-width="0.75"/>
<line x1="353.3" y1="169.50" x2="365.7" y2="169.50" stroke="#666" stroke-width="0.4" opacity="0.3"/>
<line x1="349.2" y1="172.40" x2="353.3" y2="172.40" stroke="#444" stroke-width="0.75"/>
<line x1="353.3" y1="172.40" x2="365.7" y2="172.40" stroke="#666" stroke-width="0.4" opacity="0.3"/>
<line x1="345.0" y1="175.30" x2="353.3" y2="175.30" stroke="#444" stroke-width="0.75"/>
<line x1="353.3" y1="175.30" x2="365.7" y2="175.30" stroke="#666" stroke-width="0.4" opacity="0.3"/>
<polygon points="346,45.4 349.2,45 352.4,47.9 349.4,50.6 346.6,50.3 347.6,47.9" fill="#333"/>
<polygon points="346.3,172.4 352.7,172.4 349.5,178" fill="#333"/>
<text x="328.70" y="41.10" font-size="9.0" text-anchor="start">dB</text>
<clipPath id="pcc"><rect x="400.50" y="41.60" width="139.50" height="113.40"/></clipPath>
<path d="M417.1,154.6C417.6,152.6 419.1,146.3 420.0,142.5C420.9,138.7 421.7,135.4 422.5,132.0C423.3,128.6 424.2,125.1 425.0,122.0C425.8,118.9 426.7,116.1 427.5,113.5C428.3,110.9 429.1,108.3 430.0,106.5C430.9,104.7 432.1,102.0 433.2,102.5C434.3,103.0 435.8,105.7 436.8,109.6C437.9,113.5 438.8,120.6 439.5,125.7C440.2,130.8 440.8,136.2 441.2,140.0C441.7,143.8 442.1,147.1 442.3,148.5M442.3,148.5C442.4,144.6 442.9,131.5 443.2,125.0C443.5,118.5 443.5,114.8 443.9,109.6C444.3,104.4 445.0,99.2 445.7,93.6C446.4,87.9 447.1,81.7 447.9,75.7C448.7,69.8 449.7,62.4 450.5,57.9C451.3,53.4 451.8,50.6 452.5,48.5C453.2,46.4 453.8,45.2 454.5,45.2C455.2,45.2 455.8,46.4 456.5,48.5C457.2,50.6 458.0,53.4 458.6,57.9C459.2,62.4 459.9,69.8 460.4,75.7C460.9,81.7 461.3,87.9 461.6,93.6C461.9,99.2 462.2,104.4 462.3,109.6C462.4,114.8 462.4,118.6 462.5,125.0C462.6,131.4 462.6,144.2 462.6,148.0M462.6,148.0C462.7,144.2 463.0,131.4 463.2,125.0C463.4,118.6 463.5,114.8 463.6,109.6C463.8,104.4 463.9,98.4 464.1,93.6C464.3,88.8 464.6,83.5 464.9,80.5C465.2,77.5 465.6,75.4 465.9,75.4C466.2,75.4 466.6,77.5 466.9,80.5C467.2,83.5 467.6,88.8 467.9,93.6C468.2,98.4 468.4,103.5 468.6,109.6C468.8,115.7 469.0,122.3 469.2,130.0C469.4,137.7 469.5,151.7 469.6,156.0M469.6,156.0C469.8,151.7 470.3,137.7 470.6,130.0C470.9,122.3 471.1,115.7 471.4,109.6C471.6,103.5 471.8,98.6 472.1,93.6C472.4,88.6 472.7,82.8 473.1,79.5C473.5,76.2 473.9,73.9 474.3,73.9C474.7,73.9 475.2,76.2 475.6,79.5C476.0,82.8 476.5,88.6 476.8,93.6C477.1,98.6 477.3,103.5 477.5,109.6C477.7,115.7 477.9,122.3 478.0,130.0C478.1,137.7 478.3,151.7 478.4,156.0M478.4,156.0C478.5,151.7 478.7,137.7 478.8,130.0C478.9,122.3 478.9,115.7 479.1,109.6C479.3,103.5 479.6,99.2 480.0,93.6C480.4,87.9 480.8,81.7 481.2,75.7C481.8,69.8 482.4,62.6 483.0,57.9C483.6,53.2 484.1,49.9 484.6,47.5C485.1,45.1 485.6,43.4 486.1,43.3C486.6,43.2 487.0,44.6 487.6,47.0C488.2,49.4 488.8,53.1 489.5,57.9C490.2,62.7 491.2,69.8 491.8,75.7C492.4,81.7 492.9,87.9 493.4,93.6C493.8,99.2 494.2,103.5 494.5,109.6C494.8,115.7 495.1,122.3 495.3,130.0C495.5,137.7 495.7,151.7 495.8,156.0M495.8,156.0C495.9,153.9 495.9,148.7 496.1,143.6C496.3,138.5 496.5,131.7 496.8,125.7C497.1,119.8 497.4,112.5 497.9,107.9C498.4,103.3 498.9,100.1 499.6,98.0C500.3,95.9 501.2,95.9 502.0,95.4C502.8,94.9 503.5,94.9 504.2,94.9C504.9,94.9 505.6,94.9 506.4,95.4C507.2,95.9 508.2,96.2 509.1,98.0C510.0,99.8 510.9,102.4 511.8,106.1C512.7,109.8 513.6,115.4 514.5,120.4C515.4,125.5 516.3,131.9 517.1,136.4C517.9,140.9 518.9,145.7 519.3,147.5M519.3,147.5C519.5,146.2 520.0,143.2 520.7,140.0C521.4,136.8 522.6,130.8 523.4,128.4C524.2,126.1 524.6,126.4 525.3,125.9C525.9,125.4 526.6,125.0 527.3,125.2C528.0,125.4 528.6,126.0 529.3,127.0C530.0,128.0 530.4,128.3 531.4,131.1C532.4,133.9 534.0,139.7 535.0,143.6C536.0,147.5 537.2,152.8 537.7,154.6" fill="none" stroke="#2f8be6" stroke-width="1.08" stroke-linejoin="round" stroke-linecap="round" clip-path="url(#pcc)"/>
<path d="M417.8,154.6C418.2,152.7 419.5,146.8 420.3,143.0C421.1,139.2 422.0,135.4 422.8,132.0C423.6,128.6 424.5,125.2 425.3,122.5C426.1,119.8 426.9,117.6 427.6,116.0C428.3,114.4 428.9,113.6 429.5,113.0C430.1,112.4 430.9,112.2 431.4,112.2C431.9,112.2 431.9,111.0 432.7,113.2C433.5,115.5 435.2,120.9 436.2,125.7C437.3,130.5 438.2,137.0 438.9,141.8C439.6,146.7 440.4,152.6 440.7,154.8M440.7,154.8C441.1,154.8 442.9,154.8 443.4,154.8M443.4,154.8C443.5,152.9 443.9,148.6 444.2,143.6C444.5,138.6 444.8,130.7 445.0,125.0C445.2,119.3 445.2,114.8 445.5,109.6C445.8,104.4 446.2,99.2 446.7,93.6C447.2,87.9 448.0,81.1 448.8,75.7C449.5,70.3 450.4,64.7 451.1,61.4C451.8,58.1 452.2,57.0 452.7,55.8C453.2,54.6 453.6,54.1 454.1,54.1C454.6,54.1 455.1,54.6 455.6,55.8C456.1,57.0 456.7,58.1 457.3,61.4C457.9,64.7 458.9,70.3 459.5,75.7C460.1,81.1 460.5,87.9 460.9,93.6C461.2,99.2 461.4,102.8 461.6,109.6C461.8,116.4 462.0,128.4 462.1,134.6C462.2,140.8 462.4,144.9 462.5,147.0M462.5,147.0C462.6,143.4 463.2,131.9 463.4,125.7C463.6,119.5 463.7,114.1 463.9,109.6C464.1,105.1 464.3,101.8 464.5,98.9C464.7,96.1 465.0,93.9 465.2,92.5C465.4,91.1 465.7,90.5 465.9,90.5C466.1,90.5 466.4,91.1 466.6,92.5C466.9,93.9 467.2,96.2 467.4,99.0C467.6,101.8 467.8,104.4 468.0,109.6C468.2,114.8 468.4,122.3 468.5,130.0C468.6,137.7 468.8,151.7 468.9,156.0M468.9,156.0C469.1,151.7 470.0,137.7 470.4,130.0C470.8,122.3 471.1,115.7 471.5,109.6C471.9,103.5 472.2,98.4 472.5,93.6C472.8,88.8 473.1,83.4 473.4,80.5C473.7,77.6 474.0,76.2 474.3,76.2C474.6,76.2 475.0,77.6 475.3,80.5C475.6,83.4 475.8,88.8 476.1,93.6C476.4,98.4 476.7,103.5 477.0,109.6C477.3,115.7 477.5,122.3 477.7,130.0C477.9,137.7 478.1,151.7 478.2,156.0M478.2,156.0C478.4,151.7 479.0,137.7 479.3,130.0C479.6,122.3 479.8,115.7 480.0,109.6C480.2,103.5 480.4,99.2 480.7,93.6C481.0,87.9 481.4,81.7 482.0,75.7C482.6,69.8 483.6,61.8 484.1,57.9C484.7,54.0 484.9,53.5 485.3,52.3C485.7,51.1 486.0,50.8 486.3,50.9C486.6,51.0 486.9,50.8 487.4,52.8C487.9,54.8 488.9,59.4 489.5,63.2C490.1,67.0 490.7,70.6 491.2,75.7C491.8,80.8 492.5,87.9 492.9,93.6C493.3,99.2 493.6,103.5 493.9,109.6C494.2,115.7 494.6,122.3 494.9,130.0C495.2,137.7 495.6,151.7 495.7,156.0M495.7,156.0C495.8,153.9 496.1,148.7 496.4,143.6C496.7,138.5 497.1,130.5 497.5,125.7C497.9,120.9 498.3,117.7 498.9,115.0C499.5,112.3 500.2,110.9 501.1,109.6C502.0,108.3 503.4,107.9 504.5,107.3C505.6,106.7 506.8,105.6 507.9,106.1C509.0,106.6 509.9,108.1 510.9,110.5C511.8,112.9 512.7,116.7 513.6,120.4C514.5,124.1 515.4,129.3 516.2,132.9C517.1,136.5 518.0,140.2 518.9,142.1C519.8,144.0 520.5,144.2 521.6,144.5C522.7,144.8 524.2,143.6 525.2,143.9C526.2,144.2 527.0,145.0 527.9,146.2C528.8,147.5 529.9,150.2 530.5,151.6C531.1,153.0 531.6,154.3 531.8,154.8" fill="none" stroke="#f79a45" stroke-width="1.08" stroke-linejoin="round" stroke-linecap="round" clip-path="url(#pcc)"/>
<rect x="400.50" y="43.10" width="139.50" height="111.90" fill="none" stroke="#333" stroke-width="0.9"/>
<line x1="400.50" y1="155.00" x2="400.50" y2="153.20" stroke="#333" stroke-width="0.7"/>
<line x1="412.12" y1="155.00" x2="412.12" y2="153.90" stroke="#333" stroke-width="0.7"/>
<line x1="423.75" y1="155.00" x2="423.75" y2="153.20" stroke="#333" stroke-width="0.7"/>
<line x1="435.38" y1="155.00" x2="435.38" y2="153.90" stroke="#333" stroke-width="0.7"/>
<line x1="447.00" y1="155.00" x2="447.00" y2="153.20" stroke="#333" stroke-width="0.7"/>
<line x1="458.62" y1="155.00" x2="458.62" y2="153.90" stroke="#333" stroke-width="0.7"/>
<line x1="470.25" y1="155.00" x2="470.25" y2="153.20" stroke="#333" stroke-width="0.7"/>
<line x1="481.88" y1="155.00" x2="481.88" y2="153.90" stroke="#333" stroke-width="0.7"/>
<line x1="493.50" y1="155.00" x2="493.50" y2="153.20" stroke="#333" stroke-width="0.7"/>
<line x1="505.12" y1="155.00" x2="505.12" y2="153.90" stroke="#333" stroke-width="0.7"/>
<line x1="516.75" y1="155.00" x2="516.75" y2="153.20" stroke="#333" stroke-width="0.7"/>
<line x1="528.38" y1="155.00" x2="528.38" y2="153.90" stroke="#333" stroke-width="0.7"/>
<line x1="540.00" y1="155.00" x2="540.00" y2="153.20" stroke="#333" stroke-width="0.7"/>
<line x1="398.70" y1="43.10" x2="400.50" y2="43.10" stroke="#333" stroke-width="0.7"/>
<line x1="399.40" y1="61.75" x2="400.50" y2="61.75" stroke="#333" stroke-width="0.7"/>
<line x1="398.70" y1="80.40" x2="400.50" y2="80.40" stroke="#333" stroke-width="0.7"/>
<line x1="399.40" y1="99.05" x2="400.50" y2="99.05" stroke="#333" stroke-width="0.7"/>
<line x1="398.70" y1="117.70" x2="400.50" y2="117.70" stroke="#333" stroke-width="0.7"/>
<line x1="399.40" y1="136.35" x2="400.50" y2="136.35" stroke="#333" stroke-width="0.7"/>
<line x1="398.70" y1="155.00" x2="400.50" y2="155.00" stroke="#333" stroke-width="0.7"/>
<text x="399.00" y="166.80" font-size="9.7" text-anchor="middle">−90</text>
<text x="422.25" y="166.80" font-size="9.7" text-anchor="middle">−60</text>
<text x="445.50" y="166.80" font-size="9.7" text-anchor="middle">−30</text>
<text x="470.25" y="166.80" font-size="9.7" text-anchor="middle">0</text>
<text x="493.50" y="166.80" font-size="9.7" text-anchor="middle">30</text>
<text x="516.75" y="166.80" font-size="9.7" text-anchor="middle">60</text>
<text x="538.00" y="166.80" font-size="9.7" text-anchor="middle">90</text>
<text x="397.90" y="46.40" font-size="9.7" text-anchor="end">0</text>
<text x="397.90" y="83.70" font-size="9.7" text-anchor="end">−10</text>
<text x="397.90" y="121.00" font-size="9.7" text-anchor="end">−20</text>
<text x="397.90" y="158.30" font-size="9.7" text-anchor="end">−30</text>
<clipPath id="pcf"><rect x="403.70" y="242.30" width="137.80" height="112.20"/></clipPath>
<path d="M405.7,354.6C406.1,352.8 407.2,347.2 408.0,343.6C408.8,340.0 409.7,335.6 410.7,332.9C411.7,330.1 412.8,328.3 413.9,327.1C414.9,325.9 416.1,325.3 417.0,325.7C417.9,326.1 418.8,327.7 419.6,329.3C420.4,330.9 421.2,333.9 421.8,335.5C422.4,337.1 422.7,338.4 422.9,339.0M422.9,339.0C423.2,336.7 423.9,329.9 424.5,325.0C425.1,320.1 425.6,314.8 426.2,309.6C426.8,304.4 427.5,299.1 428.2,293.6C428.9,288.1 429.6,281.9 430.4,276.5C431.2,271.1 432.1,265.7 433.0,261.4C433.9,257.1 434.9,253.2 435.7,250.7C436.5,248.2 437.0,247.3 437.7,246.3C438.4,245.3 439.0,244.9 439.6,244.9C440.2,244.9 440.9,245.3 441.5,246.3C442.1,247.3 442.7,248.2 443.4,250.7C444.1,253.2 444.9,257.2 445.5,261.4C446.1,265.6 446.8,270.3 447.3,275.7C447.8,281.1 448.1,288.0 448.3,293.6C448.6,299.2 448.7,303.5 448.8,309.6C448.9,315.7 448.9,322.3 449.0,330.0C449.1,337.7 449.1,351.7 449.1,356.0M449.1,356.0C449.2,352.3 449.5,341.7 449.7,334.0C449.9,326.3 450.2,316.3 450.4,309.6C450.6,302.9 450.7,298.0 450.9,293.6C451.1,289.2 451.4,285.7 451.7,283.5C452.0,281.3 452.4,280.2 452.7,280.2C453.0,280.2 453.4,281.3 453.7,283.5C454.0,285.7 454.2,289.5 454.5,293.6C454.8,297.7 455.0,303.0 455.4,307.9C455.8,312.8 456.5,319.6 456.8,323.0C457.1,326.4 457.2,327.2 457.3,328.0M457.3,328.0C457.4,324.9 457.7,314.2 458.0,309.6C458.3,305.1 458.6,303.8 458.9,300.7C459.2,297.6 459.6,293.1 460.0,291.0C460.4,288.9 460.8,287.9 461.1,287.9C461.5,287.9 461.8,289.5 462.1,291.0C462.4,292.5 462.5,294.0 462.9,297.1C463.3,300.2 463.9,303.5 464.3,309.6C464.7,315.7 465.1,329.7 465.2,333.8M465.2,333.8C465.4,330.9 465.8,321.9 466.1,316.8C466.4,311.7 466.7,306.4 467.0,303.0C467.3,299.6 467.5,299.3 467.9,296.5C468.3,293.7 468.8,289.4 469.3,286.4C469.8,283.4 470.5,280.2 471.1,278.4C471.8,276.6 472.4,276.6 473.2,275.7C474.0,274.8 475.2,272.8 475.9,272.7C476.5,272.6 476.7,273.1 477.1,274.8C477.5,276.5 477.8,279.8 478.2,282.9C478.6,286.0 479.1,289.2 479.5,293.6C479.9,298.1 480.1,303.5 480.3,309.6C480.5,315.7 480.7,322.3 480.9,330.0C481.1,337.7 481.2,351.7 481.2,356.0M481.2,356.0C481.3,353.9 481.6,348.7 481.8,343.6C482.0,338.6 482.2,331.4 482.4,325.7C482.6,320.0 482.7,315.0 482.9,309.6C483.1,304.2 483.3,297.7 483.6,293.6C483.9,289.5 484.2,286.9 484.5,285.0C484.8,283.1 485.1,282.5 485.4,282.5C485.7,282.5 486.0,283.1 486.3,285.0C486.6,286.9 486.8,289.5 487.1,293.6C487.4,297.7 487.6,304.2 487.9,309.6C488.1,315.0 488.4,320.0 488.6,325.7C488.8,331.4 488.8,338.6 489.0,343.6C489.2,348.7 489.5,353.9 489.6,356.0M489.6,356.0C489.8,350.9 490.3,333.4 490.5,325.7C490.7,318.0 490.6,315.6 490.9,309.6C491.1,303.7 491.7,294.9 492.0,290.0C492.3,285.1 492.6,282.5 492.9,280.5C493.2,278.5 493.5,277.9 493.8,277.9C494.0,277.9 494.3,278.5 494.6,280.5C494.9,282.5 495.2,285.1 495.5,290.0C495.8,294.9 496.0,303.4 496.3,309.6C496.6,315.8 497.0,321.3 497.3,327.0C497.6,332.7 497.8,339.3 498.0,343.6C498.2,347.9 498.3,351.4 498.4,353.0M498.4,353.0C498.4,349.2 498.3,337.2 498.3,330.0C498.3,322.8 498.2,315.7 498.3,309.6C498.4,303.5 498.8,299.2 499.2,293.6C499.6,288.0 500.1,281.1 500.6,275.7C501.1,270.3 501.7,265.6 502.3,261.4C502.9,257.2 503.5,253.3 504.0,250.7C504.5,248.1 505.0,246.7 505.5,245.6C506.0,244.5 506.5,243.9 507.0,243.9C507.5,243.9 508.0,244.5 508.4,245.6C508.8,246.7 509.0,248.1 509.6,250.7C510.2,253.3 511.1,257.2 511.8,261.4C512.5,265.6 513.3,270.3 514.1,275.7C514.9,281.1 516.0,288.0 516.8,293.6C517.5,299.2 518.1,305.5 518.6,309.6C519.1,313.7 519.1,313.8 519.5,318.0C519.9,322.2 520.4,328.5 520.7,334.6C521.0,340.7 521.3,351.3 521.4,354.6M521.4,354.6C521.5,352.8 521.7,347.5 522.1,343.6C522.5,339.7 523.1,334.5 523.6,331.1C524.1,327.7 524.8,324.7 525.4,323.0C526.0,321.3 526.7,320.8 527.5,320.9C528.3,321.0 529.2,321.6 530.2,323.9C531.2,326.2 532.6,331.0 533.8,334.6C534.9,338.2 535.9,342.1 536.8,345.4C537.7,348.7 538.7,353.1 539.1,354.6" fill="none" stroke="#2f8be6" stroke-width="1.08" stroke-linejoin="round" stroke-linecap="round" clip-path="url(#pcf)"/>
<path d="M411.6,354.6C412.0,353.8 413.1,350.9 413.9,349.8C414.7,348.7 415.5,348.1 416.4,348.0C417.2,347.9 418.3,349.1 419.0,349.4C419.7,349.7 420.2,350.6 420.8,349.6C421.4,348.7 422.1,346.7 422.6,343.7C423.1,340.7 423.5,335.7 423.9,331.7C424.3,327.7 424.5,323.9 425.0,319.8C425.5,315.7 426.4,310.8 427.0,307.0C427.6,303.2 428.0,300.3 428.6,297.0C429.2,293.7 429.8,290.4 430.5,287.0C431.2,283.6 432.0,279.8 432.8,276.5C433.6,273.2 434.6,269.8 435.3,267.5C436.1,265.2 436.7,263.9 437.3,263.0C437.9,262.1 438.4,261.8 438.9,261.8C439.4,261.8 439.9,262.0 440.4,262.8C440.9,263.6 441.4,264.7 442.0,266.8C442.6,268.9 443.6,271.2 444.3,275.7C445.0,280.2 445.8,288.0 446.4,293.6C447.0,299.2 447.5,303.5 447.9,309.6C448.3,315.7 448.4,322.3 448.6,330.0C448.8,337.7 448.9,351.7 449.0,356.0M449.0,356.0C449.1,352.4 449.2,342.4 449.5,334.6C449.8,326.8 450.2,315.0 450.6,309.0C451.0,303.0 451.5,300.5 451.8,298.5C452.1,296.5 452.4,296.7 452.7,296.8C453.0,296.9 453.4,297.0 453.7,299.0C454.0,301.0 454.3,304.2 454.6,309.0C454.9,313.8 455.4,322.8 455.7,328.0C456.0,333.2 456.3,337.0 456.5,340.0C456.7,343.0 457.0,345.2 457.1,346.2M457.1,346.2C457.2,345.2 457.7,343.4 458.0,340.0C458.3,336.6 458.6,330.3 458.9,325.7C459.2,321.1 459.6,315.3 460.0,312.5C460.4,309.7 460.8,308.9 461.1,308.8C461.5,308.6 461.8,309.9 462.1,311.5C462.4,313.1 462.5,314.8 462.9,318.6C463.3,322.5 463.9,330.4 464.3,334.6C464.7,338.8 465.1,342.1 465.2,343.6M465.2,343.6C465.4,340.6 465.9,331.6 466.4,325.7C466.8,319.8 467.4,312.7 467.9,307.9C468.4,303.1 468.9,299.7 469.3,297.1C469.7,294.5 470.0,294.0 470.5,292.5C471.0,291.0 471.7,289.8 472.3,288.2C472.9,286.6 473.5,284.2 474.1,282.9C474.7,281.6 475.4,280.2 475.9,280.2C476.4,280.2 476.7,280.7 477.1,282.9C477.6,285.1 478.2,289.2 478.6,293.6C479.1,298.1 479.5,303.5 479.8,309.6C480.1,315.7 480.5,322.3 480.7,330.0C480.9,337.7 481.2,351.7 481.2,356.0M481.2,356.0C481.3,353.9 481.6,348.7 481.8,343.6C482.0,338.6 482.2,331.6 482.5,325.7C482.8,319.8 483.3,312.7 483.6,307.9C483.9,303.1 484.2,299.4 484.5,297.0C484.8,294.6 485.1,293.7 485.4,293.7C485.7,293.7 486.0,294.6 486.3,297.0C486.6,299.4 486.8,303.1 487.1,307.9C487.4,312.7 487.9,319.8 488.2,325.7C488.5,331.6 488.7,338.6 488.9,343.6C489.1,348.7 489.5,353.9 489.6,356.0M489.6,356.0C489.8,350.9 490.4,333.4 490.7,325.7C491.0,318.0 491.2,313.8 491.4,309.6C491.6,305.4 491.8,303.6 492.0,300.7C492.2,297.8 492.6,294.3 492.9,292.5C493.2,290.7 493.5,290.0 493.8,290.0C494.0,290.0 494.3,290.7 494.6,292.5C494.9,294.3 495.2,297.8 495.4,300.7C495.6,303.6 495.7,305.4 496.0,309.6C496.3,313.8 496.8,320.0 497.1,325.7C497.4,331.4 497.7,339.1 497.9,343.6C498.1,348.2 498.4,351.4 498.5,353.0M498.5,353.0C498.7,348.4 499.3,332.9 499.6,325.7C499.9,318.5 500.3,315.0 500.5,309.6C500.7,304.2 500.7,299.1 501.0,293.6C501.3,288.1 501.9,281.0 502.4,276.5C502.8,272.0 503.2,269.4 503.7,266.8C504.2,264.2 504.6,262.3 505.2,261.0C505.8,259.7 506.5,258.8 507.0,258.8C507.5,258.7 508.0,259.6 508.4,260.5C508.8,261.4 509.0,261.6 509.6,264.1C510.2,266.6 511.1,271.7 511.8,275.7C512.5,279.7 513.3,284.0 514.1,288.2C514.9,292.4 515.8,297.1 516.4,300.7C517.0,304.3 517.1,304.0 517.7,309.6C518.3,315.2 519.5,327.1 520.0,334.6C520.5,342.1 520.6,351.3 520.7,354.6M520.7,354.6C521.2,354.6 523.4,354.6 523.9,354.6M523.9,354.6C524.1,353.4 524.5,348.9 525.0,347.1C525.5,345.3 526.1,344.3 526.6,343.6C527.1,342.9 527.4,342.6 528.0,342.7C528.6,342.8 529.5,343.3 530.2,344.5C531.0,345.7 531.9,348.1 532.5,349.8C533.1,351.5 533.5,353.8 533.8,354.6" fill="none" stroke="#f79a45" stroke-width="1.08" stroke-linejoin="round" stroke-linecap="round" clip-path="url(#pcf)"/>
<rect x="403.70" y="243.80" width="137.80" height="110.70" fill="none" stroke="#333" stroke-width="0.9"/>
<line x1="403.70" y1="354.50" x2="403.70" y2="352.70" stroke="#333" stroke-width="0.7"/>
<line x1="415.18" y1="354.50" x2="415.18" y2="353.40" stroke="#333" stroke-width="0.7"/>
<line x1="426.67" y1="354.50" x2="426.67" y2="352.70" stroke="#333" stroke-width="0.7"/>
<line x1="438.15" y1="354.50" x2="438.15" y2="353.40" stroke="#333" stroke-width="0.7"/>
<line x1="449.63" y1="354.50" x2="449.63" y2="352.70" stroke="#333" stroke-width="0.7"/>
<line x1="461.12" y1="354.50" x2="461.12" y2="353.40" stroke="#333" stroke-width="0.7"/>
<line x1="472.60" y1="354.50" x2="472.60" y2="352.70" stroke="#333" stroke-width="0.7"/>
<line x1="484.08" y1="354.50" x2="484.08" y2="353.40" stroke="#333" stroke-width="0.7"/>
<line x1="495.57" y1="354.50" x2="495.57" y2="352.70" stroke="#333" stroke-width="0.7"/>
<line x1="507.05" y1="354.50" x2="507.05" y2="353.40" stroke="#333" stroke-width="0.7"/>
<line x1="518.53" y1="354.50" x2="518.53" y2="352.70" stroke="#333" stroke-width="0.7"/>
<line x1="530.02" y1="354.50" x2="530.02" y2="353.40" stroke="#333" stroke-width="0.7"/>
<line x1="541.50" y1="354.50" x2="541.50" y2="352.70" stroke="#333" stroke-width="0.7"/>
<line x1="401.90" y1="243.80" x2="403.70" y2="243.80" stroke="#333" stroke-width="0.7"/>
<line x1="402.60" y1="262.25" x2="403.70" y2="262.25" stroke="#333" stroke-width="0.7"/>
<line x1="401.90" y1="280.70" x2="403.70" y2="280.70" stroke="#333" stroke-width="0.7"/>
<line x1="402.60" y1="299.15" x2="403.70" y2="299.15" stroke="#333" stroke-width="0.7"/>
<line x1="401.90" y1="317.60" x2="403.70" y2="317.60" stroke="#333" stroke-width="0.7"/>
<line x1="402.60" y1="336.05" x2="403.70" y2="336.05" stroke="#333" stroke-width="0.7"/>
<line x1="401.90" y1="354.50" x2="403.70" y2="354.50" stroke="#333" stroke-width="0.7"/>
<text x="402.20" y="366.30" font-size="9.7" text-anchor="middle">−90</text>
<text x="425.17" y="366.30" font-size="9.7" text-anchor="middle">−60</text>
<text x="448.13" y="366.30" font-size="9.7" text-anchor="middle">−30</text>
<text x="472.60" y="366.30" font-size="9.7" text-anchor="middle">0</text>
<text x="495.57" y="366.30" font-size="9.7" text-anchor="middle">30</text>
<text x="518.53" y="366.30" font-size="9.7" text-anchor="middle">60</text>
<text x="540.90" y="366.30" font-size="9.7" text-anchor="middle">90</text>
<text x="401.10" y="247.10" font-size="9.7" text-anchor="end">0</text>
<text x="401.10" y="284.00" font-size="9.7" text-anchor="end">−10</text>
<text x="401.10" y="320.90" font-size="9.7" text-anchor="end">−20</text>
<text x="401.10" y="357.80" font-size="9.7" text-anchor="end">−30</text>
<text x="365.50" y="13.45" font-size="13.2" text-anchor="start">(c)</text>
<text x="470.30" y="180.50" font-size="9.6" text-anchor="middle">Theta(deg)</text>
<text transform="translate(379.00 98.80) rotate(-90)" font-size="9.5" text-anchor="middle">Gain(dB)</text>
<line x1="399.5" y1="19.2" x2="437.3" y2="19.2" stroke="#2f8be6" stroke-width="1.2"/>
<line x1="399.5" y1="33.4" x2="437.3" y2="33.4" stroke="#f79a45" stroke-width="1.2"/>
<text x="443.80" y="22.90" font-size="10.8" text-anchor="start">AC:1111….</text>
<text x="443.80" y="38.10" font-size="10.8" text-anchor="start">AC: 0.5 0.5 0.5 0.5….</text>
<line x1="431" y1="45.1" x2="453" y2="45.1" stroke="#86bff2" stroke-width="1.1" stroke-dasharray="2.2 1.5"/>
<line x1="431" y1="54.4" x2="453" y2="54.4" stroke="#f8b488" stroke-width="1.1" stroke-dasharray="1.7 1.5"/>
<line x1="442.3" y1="46.5" x2="442.3" y2="52" stroke="#111" stroke-width="0.8"/>
<polygon points="442.3,44.8 440.6,48 444,48" fill="#111"/><polygon points="442.3,53.7 440.6,50.5 444,50.5" fill="#111"/>
<text x="411.60" y="69.00" font-size="10.3" text-anchor="start">−2.69dB</text>
<line x1="486.2" y1="45.5" x2="486.2" y2="155" stroke="#444" stroke-width="0.8" stroke-dasharray="2.2 1.8"/>
<text x="493.00" y="68.20" font-size="10.4" text-anchor="start">21.1°</text>
<text x="365.50" y="210.75" font-size="13.2" text-anchor="start">(f)</text>
<text x="472.50" y="379.70" font-size="9.6" text-anchor="middle">Theta(deg)</text>
<text transform="translate(383.00 298.80) rotate(-90)" font-size="9.5" text-anchor="middle">Gain(dB)</text>
<line x1="403.5" y1="219.8" x2="441.5" y2="219.8" stroke="#2f8be6" stroke-width="1.2"/>
<line x1="403.5" y1="233.4" x2="441.5" y2="233.4" stroke="#f79a45" stroke-width="1.2"/>
<text x="448.30" y="224.00" font-size="10.8" text-anchor="start">AC:1111….</text>
<text x="448.30" y="238.60" font-size="10.8" text-anchor="start">AC: 0.5 0.5 0.5 0.5….</text>
<line x1="417.8" y1="244.9" x2="445" y2="244.9" stroke="#86bff2" stroke-width="1.1" stroke-dasharray="2.0 1.5"/>
<line x1="417.8" y1="261.7" x2="437.7" y2="261.7" stroke="#f8b488" stroke-width="1.1" stroke-dasharray="1.7 1.5"/>
<line x1="429" y1="248" x2="429" y2="259" stroke="#111" stroke-width="0.8" stroke-dasharray="1.5 1.2"/>
<polygon points="429,245.6 427.3,249 430.7,249" fill="#111"/><polygon points="429,261.4 427.3,258 430.7,258" fill="#111"/>
<text x="446.20" y="257.60" font-size="10.2" text-anchor="start">−3.44dB</text>
<line x1="506.9" y1="244" x2="506.9" y2="354.5" stroke="#777" stroke-width="1.1" stroke-dasharray="1.6 2"/>
<text x="517.20" y="294.30" font-size="10.4" text-anchor="start">40.1°</text>
</svg></body></html>
